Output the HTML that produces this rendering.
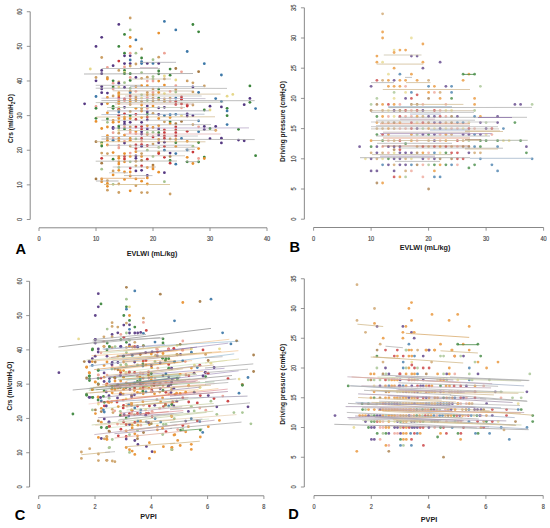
<!DOCTYPE html>
<html><head><meta charset="utf-8"><style>
html,body{margin:0;padding:0;background:#fff;width:550px;height:528px;overflow:hidden}
svg{display:block}
text{font-family:"Liberation Sans",sans-serif}
</style></head><body>
<svg width="550" height="528" viewBox="0 0 550 528">
<defs><filter id="bl" x="0" y="0" width="550" height="528" filterUnits="userSpaceOnUse"><feGaussianBlur stdDeviation="0.45"/></filter></defs>
<rect width="550" height="528" fill="#fff"/>
<line x1="30.2" y1="11.72" x2="30.2" y2="219.5" stroke="#7a7a7a" stroke-width="0.9"/>
<line x1="26.80" y1="219.50" x2="30.2" y2="219.50" stroke="#7a7a7a" stroke-width="0.8"/>
<text x="0" y="0" transform="translate(22.20,219.50) rotate(-90) scale(0.88,1)" text-anchor="middle" font-size="6.4" fill="#4a4a4a" stroke="#4a4a4a" stroke-width="0.18">0</text>
<line x1="26.80" y1="184.87" x2="30.2" y2="184.87" stroke="#7a7a7a" stroke-width="0.8"/>
<text x="0" y="0" transform="translate(22.20,184.87) rotate(-90) scale(0.88,1)" text-anchor="middle" font-size="6.4" fill="#4a4a4a" stroke="#4a4a4a" stroke-width="0.18">10</text>
<line x1="26.80" y1="150.24" x2="30.2" y2="150.24" stroke="#7a7a7a" stroke-width="0.8"/>
<text x="0" y="0" transform="translate(22.20,150.24) rotate(-90) scale(0.88,1)" text-anchor="middle" font-size="6.4" fill="#4a4a4a" stroke="#4a4a4a" stroke-width="0.18">20</text>
<line x1="26.80" y1="115.61" x2="30.2" y2="115.61" stroke="#7a7a7a" stroke-width="0.8"/>
<text x="0" y="0" transform="translate(22.20,115.61) rotate(-90) scale(0.88,1)" text-anchor="middle" font-size="6.4" fill="#4a4a4a" stroke="#4a4a4a" stroke-width="0.18">30</text>
<line x1="26.80" y1="80.98" x2="30.2" y2="80.98" stroke="#7a7a7a" stroke-width="0.8"/>
<text x="0" y="0" transform="translate(22.20,80.98) rotate(-90) scale(0.88,1)" text-anchor="middle" font-size="6.4" fill="#4a4a4a" stroke="#4a4a4a" stroke-width="0.18">40</text>
<line x1="26.80" y1="46.35" x2="30.2" y2="46.35" stroke="#7a7a7a" stroke-width="0.8"/>
<text x="0" y="0" transform="translate(22.20,46.35) rotate(-90) scale(0.88,1)" text-anchor="middle" font-size="6.4" fill="#4a4a4a" stroke="#4a4a4a" stroke-width="0.18">50</text>
<line x1="26.80" y1="11.72" x2="30.2" y2="11.72" stroke="#7a7a7a" stroke-width="0.8"/>
<text x="0" y="0" transform="translate(22.20,11.72) rotate(-90) scale(0.88,1)" text-anchor="middle" font-size="6.4" fill="#4a4a4a" stroke="#4a4a4a" stroke-width="0.18">60</text>
<line x1="39.0" y1="227.8" x2="267.00" y2="227.8" stroke="#7a7a7a" stroke-width="0.9"/>
<line x1="39.00" y1="227.8" x2="39.00" y2="231.00" stroke="#7a7a7a" stroke-width="0.8"/>
<text x="0" y="0" transform="translate(39.00,240.80) scale(0.88,1)" text-anchor="middle" font-size="6.4" fill="#4a4a4a" stroke="#4a4a4a" stroke-width="0.18">0</text>
<line x1="96.00" y1="227.8" x2="96.00" y2="231.00" stroke="#7a7a7a" stroke-width="0.8"/>
<text x="0" y="0" transform="translate(96.00,240.80) scale(0.88,1)" text-anchor="middle" font-size="6.4" fill="#4a4a4a" stroke="#4a4a4a" stroke-width="0.18">10</text>
<line x1="153.00" y1="227.8" x2="153.00" y2="231.00" stroke="#7a7a7a" stroke-width="0.8"/>
<text x="0" y="0" transform="translate(153.00,240.80) scale(0.88,1)" text-anchor="middle" font-size="6.4" fill="#4a4a4a" stroke="#4a4a4a" stroke-width="0.18">20</text>
<line x1="210.00" y1="227.8" x2="210.00" y2="231.00" stroke="#7a7a7a" stroke-width="0.8"/>
<text x="0" y="0" transform="translate(210.00,240.80) scale(0.88,1)" text-anchor="middle" font-size="6.4" fill="#4a4a4a" stroke="#4a4a4a" stroke-width="0.18">30</text>
<line x1="267.00" y1="227.8" x2="267.00" y2="231.00" stroke="#7a7a7a" stroke-width="0.8"/>
<text x="0" y="0" transform="translate(267.00,240.80) scale(0.88,1)" text-anchor="middle" font-size="6.4" fill="#4a4a4a" stroke="#4a4a4a" stroke-width="0.18">40</text>
<text x="0" y="0" transform="translate(13.10,118.60) rotate(-90)" text-anchor="middle" font-size="6.6" font-weight="bold" fill="#1a1a1a">Crs (ml/cmH<tspan font-size="5" dy="1.5">2</tspan><tspan dy="-1.5">O)</tspan></text>
<text x="152.0" y="256.2" text-anchor="middle" font-size="7.25" font-weight="bold" fill="#1a1a1a">EVLWi (mL/kg)</text>
<text x="15.4" y="253.6" font-size="14.6" font-weight="bold" fill="#000">A</text>
<g filter="url(#bl)"><circle cx="130.2" cy="18.0" r="1.4" fill="#cca066"/>
<circle cx="130.2" cy="29.9" r="1.4" fill="#a3c28e"/>
<circle cx="130.2" cy="37.5" r="1.4" fill="#e8902e"/>
<circle cx="130.2" cy="46.4" r="1.4" fill="#e8902e"/>
<circle cx="130.2" cy="53.2" r="1.4" fill="#eda396"/>
<circle cx="130.2" cy="55.8" r="1.4" fill="#553882"/>
<circle cx="130.2" cy="60.0" r="1.4" fill="#3d78a8"/>
<circle cx="130.2" cy="63.6" r="1.4" fill="#553882"/>
<circle cx="130.2" cy="66.0" r="1.4" fill="#cca066"/>
<circle cx="118.8" cy="24.4" r="1.4" fill="#553882"/>
<circle cx="118.8" cy="46.4" r="1.4" fill="#3c853c"/>
<circle cx="118.8" cy="61.1" r="1.4" fill="#c8383a"/>
<circle cx="124.5" cy="34.4" r="1.4" fill="#3c853c"/>
<circle cx="124.5" cy="53.2" r="1.4" fill="#3c853c"/>
<circle cx="124.5" cy="55.8" r="1.4" fill="#553882"/>
<circle cx="124.5" cy="63.6" r="1.4" fill="#553882"/>
<circle cx="124.5" cy="67.0" r="1.4" fill="#eda396"/>
<circle cx="135.9" cy="39.9" r="1.4" fill="#3d78a8"/>
<circle cx="135.9" cy="53.2" r="1.4" fill="#a3c28e"/>
<circle cx="135.9" cy="64.0" r="1.4" fill="#cca066"/>
<circle cx="101.7" cy="37.3" r="1.4" fill="#553882"/>
<circle cx="101.7" cy="57.5" r="1.4" fill="#cca066"/>
<circle cx="96.0" cy="46.4" r="1.4" fill="#553882"/>
<circle cx="113.1" cy="65.7" r="1.4" fill="#553882"/>
<circle cx="107.4" cy="67.4" r="1.4" fill="#eda396"/>
<circle cx="90.3" cy="69.0" r="1.4" fill="#e6d88a"/>
<circle cx="164.4" cy="21.4" r="1.4" fill="#3d78a8"/>
<circle cx="164.4" cy="53.2" r="1.4" fill="#eda396"/>
<circle cx="192.9" cy="24.5" r="1.4" fill="#3c853c"/>
<circle cx="198.6" cy="31.8" r="1.4" fill="#3c853c"/>
<circle cx="175.8" cy="29.9" r="1.4" fill="#3d78a8"/>
<circle cx="175.8" cy="68.5" r="1.4" fill="#a57a45"/>
<circle cx="158.7" cy="33.1" r="1.4" fill="#e8902e"/>
<circle cx="158.7" cy="57.2" r="1.4" fill="#cca066"/>
<circle cx="158.7" cy="63.4" r="1.4" fill="#553882"/>
<circle cx="141.6" cy="48.9" r="1.4" fill="#cca066"/>
<circle cx="141.6" cy="58.0" r="1.4" fill="#3c853c"/>
<circle cx="141.6" cy="61.7" r="1.4" fill="#3d78a8"/>
<circle cx="141.6" cy="63.6" r="1.4" fill="#3d78a8"/>
<circle cx="187.2" cy="51.5" r="1.4" fill="#3d78a8"/>
<circle cx="153.0" cy="59.7" r="1.4" fill="#a3c28e"/>
<circle cx="153.0" cy="63.4" r="1.4" fill="#3d78a8"/>
<circle cx="147.3" cy="63.4" r="1.4" fill="#553882"/>
<circle cx="170.1" cy="69.1" r="1.4" fill="#3c853c"/>
<circle cx="204.3" cy="63.7" r="1.4" fill="#3d78a8"/>
<circle cx="198.6" cy="71.7" r="1.4" fill="#a57a45"/>
<circle cx="221.4" cy="75.0" r="1.4" fill="#3d78a8"/>
<circle cx="96.0" cy="77.5" r="1.4" fill="#cca066"/>
<circle cx="96.0" cy="80.8" r="1.4" fill="#553882"/>
<circle cx="96.0" cy="96.5" r="1.4" fill="#3d78a8"/>
<circle cx="96.0" cy="106.4" r="1.4" fill="#eda396"/>
<circle cx="96.0" cy="108.3" r="1.4" fill="#3c853c"/>
<circle cx="101.7" cy="70.4" r="1.4" fill="#553882"/>
<circle cx="101.7" cy="73.7" r="1.4" fill="#553882"/>
<circle cx="101.7" cy="86.5" r="1.4" fill="#553882"/>
<circle cx="101.7" cy="88.9" r="1.4" fill="#553882"/>
<circle cx="101.7" cy="92.7" r="1.4" fill="#553882"/>
<circle cx="101.7" cy="104.0" r="1.4" fill="#553882"/>
<circle cx="107.4" cy="77.5" r="1.4" fill="#cca066"/>
<circle cx="107.4" cy="79.0" r="1.4" fill="#e8902e"/>
<circle cx="107.4" cy="93.1" r="1.4" fill="#553882"/>
<circle cx="107.4" cy="97.4" r="1.4" fill="#e8902e"/>
<circle cx="107.4" cy="103.6" r="1.4" fill="#e8902e"/>
<circle cx="113.1" cy="80.8" r="1.4" fill="#3c853c"/>
<circle cx="113.1" cy="83.2" r="1.4" fill="#eda396"/>
<circle cx="113.1" cy="87.0" r="1.4" fill="#3c853c"/>
<circle cx="113.1" cy="88.9" r="1.4" fill="#eda396"/>
<circle cx="113.1" cy="96.0" r="1.4" fill="#cca066"/>
<circle cx="113.1" cy="106.4" r="1.4" fill="#3c853c"/>
<circle cx="113.1" cy="108.3" r="1.4" fill="#3c853c"/>
<circle cx="118.8" cy="70.4" r="1.4" fill="#cca066"/>
<circle cx="118.8" cy="81.8" r="1.4" fill="#cca066"/>
<circle cx="118.8" cy="83.2" r="1.4" fill="#553882"/>
<circle cx="118.8" cy="87.0" r="1.4" fill="#e6d88a"/>
<circle cx="118.8" cy="92.7" r="1.4" fill="#e8902e"/>
<circle cx="118.8" cy="94.1" r="1.4" fill="#e8902e"/>
<circle cx="118.8" cy="96.0" r="1.4" fill="#e8902e"/>
<circle cx="118.8" cy="97.9" r="1.4" fill="#c8383a"/>
<circle cx="118.8" cy="99.8" r="1.4" fill="#eda396"/>
<circle cx="118.8" cy="101.7" r="1.4" fill="#e8902e"/>
<circle cx="118.8" cy="103.6" r="1.4" fill="#e8902e"/>
<circle cx="118.8" cy="107.3" r="1.4" fill="#e6d88a"/>
<circle cx="118.8" cy="109.2" r="1.4" fill="#c8383a"/>
<circle cx="124.5" cy="70.4" r="1.4" fill="#3c853c"/>
<circle cx="124.5" cy="72.3" r="1.4" fill="#e6d88a"/>
<circle cx="124.5" cy="73.7" r="1.4" fill="#3c853c"/>
<circle cx="124.5" cy="82.7" r="1.4" fill="#a3c28e"/>
<circle cx="124.5" cy="87.5" r="1.4" fill="#553882"/>
<circle cx="124.5" cy="98.8" r="1.4" fill="#c8383a"/>
<circle cx="124.5" cy="100.7" r="1.4" fill="#eda396"/>
<circle cx="124.5" cy="107.3" r="1.4" fill="#553882"/>
<circle cx="130.2" cy="73.7" r="1.4" fill="#3c853c"/>
<circle cx="130.2" cy="77.5" r="1.4" fill="#eda396"/>
<circle cx="130.2" cy="80.4" r="1.4" fill="#3c853c"/>
<circle cx="130.2" cy="88.4" r="1.4" fill="#a3c28e"/>
<circle cx="130.2" cy="91.3" r="1.4" fill="#e8902e"/>
<circle cx="130.2" cy="92.7" r="1.4" fill="#3d78a8"/>
<circle cx="130.2" cy="96.0" r="1.4" fill="#c8383a"/>
<circle cx="130.2" cy="98.8" r="1.4" fill="#e8902e"/>
<circle cx="130.2" cy="101.7" r="1.4" fill="#e8902e"/>
<circle cx="130.2" cy="104.5" r="1.4" fill="#cca066"/>
<circle cx="135.9" cy="77.5" r="1.4" fill="#553882"/>
<circle cx="135.9" cy="86.5" r="1.4" fill="#e8902e"/>
<circle cx="135.9" cy="91.3" r="1.4" fill="#eda396"/>
<circle cx="135.9" cy="96.9" r="1.4" fill="#cca066"/>
<circle cx="135.9" cy="98.8" r="1.4" fill="#e8902e"/>
<circle cx="135.9" cy="100.7" r="1.4" fill="#cca066"/>
<circle cx="135.9" cy="108.3" r="1.4" fill="#e8902e"/>
<circle cx="84.6" cy="103.8" r="1.4" fill="#553882"/>
<circle cx="141.6" cy="72.6" r="1.4" fill="#a3c28e"/>
<circle cx="141.6" cy="78.3" r="1.4" fill="#cca066"/>
<circle cx="141.6" cy="85.7" r="1.4" fill="#e8902e"/>
<circle cx="141.6" cy="94.8" r="1.4" fill="#a3c28e"/>
<circle cx="141.6" cy="98.2" r="1.4" fill="#e6d88a"/>
<circle cx="141.6" cy="101.6" r="1.4" fill="#cca066"/>
<circle cx="141.6" cy="105.0" r="1.4" fill="#e8902e"/>
<circle cx="141.6" cy="108.4" r="1.4" fill="#cca066"/>
<circle cx="147.3" cy="77.2" r="1.4" fill="#cca066"/>
<circle cx="147.3" cy="81.1" r="1.4" fill="#eda396"/>
<circle cx="147.3" cy="85.7" r="1.4" fill="#e8902e"/>
<circle cx="147.3" cy="92.5" r="1.4" fill="#cca066"/>
<circle cx="147.3" cy="94.8" r="1.4" fill="#e8902e"/>
<circle cx="147.3" cy="97.6" r="1.4" fill="#eda396"/>
<circle cx="147.3" cy="100.5" r="1.4" fill="#a3c28e"/>
<circle cx="147.3" cy="106.1" r="1.4" fill="#553882"/>
<circle cx="147.3" cy="108.4" r="1.4" fill="#eda396"/>
<circle cx="153.0" cy="76.6" r="1.4" fill="#a3c28e"/>
<circle cx="153.0" cy="78.9" r="1.4" fill="#a3c28e"/>
<circle cx="153.0" cy="81.1" r="1.4" fill="#eda396"/>
<circle cx="153.0" cy="89.1" r="1.4" fill="#cca066"/>
<circle cx="153.0" cy="92.5" r="1.4" fill="#eda396"/>
<circle cx="153.0" cy="94.8" r="1.4" fill="#e8902e"/>
<circle cx="153.0" cy="98.2" r="1.4" fill="#cca066"/>
<circle cx="153.0" cy="101.0" r="1.4" fill="#cca066"/>
<circle cx="153.0" cy="106.1" r="1.4" fill="#e8902e"/>
<circle cx="158.7" cy="70.9" r="1.4" fill="#3c853c"/>
<circle cx="158.7" cy="73.8" r="1.4" fill="#3c853c"/>
<circle cx="158.7" cy="81.1" r="1.4" fill="#e8902e"/>
<circle cx="158.7" cy="89.1" r="1.4" fill="#3c853c"/>
<circle cx="158.7" cy="92.5" r="1.4" fill="#e8902e"/>
<circle cx="158.7" cy="98.2" r="1.4" fill="#3c853c"/>
<circle cx="158.7" cy="99.9" r="1.4" fill="#cca066"/>
<circle cx="158.7" cy="107.8" r="1.4" fill="#553882"/>
<circle cx="164.4" cy="76.0" r="1.4" fill="#e6d88a"/>
<circle cx="164.4" cy="78.9" r="1.4" fill="#cca066"/>
<circle cx="164.4" cy="85.1" r="1.4" fill="#e8902e"/>
<circle cx="164.4" cy="93.6" r="1.4" fill="#e6d88a"/>
<circle cx="164.4" cy="98.8" r="1.4" fill="#cca066"/>
<circle cx="164.4" cy="101.6" r="1.4" fill="#cca066"/>
<circle cx="164.4" cy="107.3" r="1.4" fill="#553882"/>
<circle cx="170.1" cy="75.2" r="1.4" fill="#3c853c"/>
<circle cx="170.1" cy="91.4" r="1.4" fill="#eda396"/>
<circle cx="170.1" cy="98.2" r="1.4" fill="#cca066"/>
<circle cx="170.1" cy="101.6" r="1.4" fill="#eda396"/>
<circle cx="175.8" cy="80.0" r="1.4" fill="#e6d88a"/>
<circle cx="175.8" cy="85.7" r="1.4" fill="#eda396"/>
<circle cx="175.8" cy="89.7" r="1.4" fill="#cca066"/>
<circle cx="175.8" cy="92.0" r="1.4" fill="#a3c28e"/>
<circle cx="175.8" cy="98.2" r="1.4" fill="#3d78a8"/>
<circle cx="175.8" cy="101.6" r="1.4" fill="#c8383a"/>
<circle cx="175.8" cy="104.4" r="1.4" fill="#c8383a"/>
<circle cx="181.5" cy="71.8" r="1.4" fill="#eda396"/>
<circle cx="181.5" cy="97.0" r="1.4" fill="#c8383a"/>
<circle cx="181.5" cy="99.3" r="1.4" fill="#c8383a"/>
<circle cx="181.5" cy="103.9" r="1.4" fill="#c8383a"/>
<circle cx="181.5" cy="107.8" r="1.4" fill="#eda396"/>
<circle cx="187.2" cy="80.9" r="1.4" fill="#cca066"/>
<circle cx="187.2" cy="105.0" r="1.4" fill="#c8383a"/>
<circle cx="187.2" cy="106.1" r="1.4" fill="#c8383a"/>
<circle cx="192.9" cy="82.8" r="1.4" fill="#cca066"/>
<circle cx="192.9" cy="87.0" r="1.4" fill="#553882"/>
<circle cx="192.9" cy="91.9" r="1.4" fill="#cca066"/>
<circle cx="192.9" cy="105.0" r="1.4" fill="#cca066"/>
<circle cx="198.6" cy="92.5" r="1.4" fill="#3d78a8"/>
<circle cx="187.2" cy="116.1" r="1.4" fill="#553882"/>
<circle cx="192.9" cy="115.7" r="1.4" fill="#553882"/>
<circle cx="192.9" cy="124.6" r="1.4" fill="#cca066"/>
<circle cx="198.6" cy="120.8" r="1.4" fill="#3d78a8"/>
<circle cx="198.6" cy="126.8" r="1.4" fill="#eda396"/>
<circle cx="198.6" cy="131.7" r="1.4" fill="#3d78a8"/>
<circle cx="204.3" cy="85.9" r="1.4" fill="#cca066"/>
<circle cx="204.3" cy="110.0" r="1.4" fill="#3c853c"/>
<circle cx="204.3" cy="126.5" r="1.4" fill="#553882"/>
<circle cx="204.3" cy="129.6" r="1.4" fill="#553882"/>
<circle cx="210.0" cy="106.2" r="1.4" fill="#553882"/>
<circle cx="210.0" cy="110.0" r="1.4" fill="#e6d88a"/>
<circle cx="210.0" cy="128.5" r="1.4" fill="#3c853c"/>
<circle cx="215.7" cy="98.6" r="1.4" fill="#3d78a8"/>
<circle cx="215.7" cy="126.5" r="1.4" fill="#553882"/>
<circle cx="215.7" cy="130.3" r="1.4" fill="#e8902e"/>
<circle cx="221.4" cy="101.5" r="1.4" fill="#3d78a8"/>
<circle cx="221.4" cy="106.9" r="1.4" fill="#553882"/>
<circle cx="227.1" cy="96.2" r="1.4" fill="#e6d88a"/>
<circle cx="227.1" cy="108.3" r="1.4" fill="#3c853c"/>
<circle cx="227.1" cy="110.9" r="1.4" fill="#3d78a8"/>
<circle cx="227.1" cy="115.7" r="1.4" fill="#3c853c"/>
<circle cx="227.1" cy="124.6" r="1.4" fill="#3d78a8"/>
<circle cx="232.8" cy="94.4" r="1.4" fill="#e6d88a"/>
<circle cx="238.5" cy="129.3" r="1.4" fill="#3c853c"/>
<circle cx="244.2" cy="104.7" r="1.4" fill="#553882"/>
<circle cx="249.9" cy="85.9" r="1.4" fill="#3c853c"/>
<circle cx="249.9" cy="98.4" r="1.4" fill="#553882"/>
<circle cx="249.9" cy="102.3" r="1.4" fill="#3c853c"/>
<circle cx="255.6" cy="108.6" r="1.4" fill="#3d78a8"/>
<circle cx="187.2" cy="150.0" r="1.4" fill="#3d78a8"/>
<circle cx="187.2" cy="161.8" r="1.4" fill="#3c853c"/>
<circle cx="192.9" cy="146.2" r="1.4" fill="#a3c28e"/>
<circle cx="192.9" cy="152.1" r="1.4" fill="#c8383a"/>
<circle cx="192.9" cy="163.5" r="1.4" fill="#e8902e"/>
<circle cx="198.6" cy="142.5" r="1.4" fill="#3c853c"/>
<circle cx="198.6" cy="148.6" r="1.4" fill="#e8902e"/>
<circle cx="198.6" cy="158.5" r="1.4" fill="#eda396"/>
<circle cx="198.6" cy="161.8" r="1.4" fill="#3c853c"/>
<circle cx="204.3" cy="157.1" r="1.4" fill="#3c853c"/>
<circle cx="204.3" cy="158.5" r="1.4" fill="#e8902e"/>
<circle cx="210.0" cy="138.7" r="1.4" fill="#553882"/>
<circle cx="221.4" cy="138.2" r="1.4" fill="#553882"/>
<circle cx="221.4" cy="142.9" r="1.4" fill="#553882"/>
<circle cx="238.5" cy="140.1" r="1.4" fill="#553882"/>
<circle cx="244.2" cy="140.8" r="1.4" fill="#553882"/>
<circle cx="255.6" cy="155.7" r="1.4" fill="#3c853c"/>
<circle cx="96.0" cy="118.3" r="1.4" fill="#3c853c"/>
<circle cx="96.0" cy="121.4" r="1.4" fill="#e8902e"/>
<circle cx="96.0" cy="141.7" r="1.4" fill="#a57a45"/>
<circle cx="101.7" cy="128.5" r="1.4" fill="#e8902e"/>
<circle cx="101.7" cy="142.7" r="1.4" fill="#3c853c"/>
<circle cx="101.7" cy="144.1" r="1.4" fill="#e6d88a"/>
<circle cx="101.7" cy="146.0" r="1.4" fill="#3c853c"/>
<circle cx="101.7" cy="153.1" r="1.4" fill="#cca066"/>
<circle cx="101.7" cy="158.3" r="1.4" fill="#c8383a"/>
<circle cx="107.4" cy="112.8" r="1.4" fill="#e8902e"/>
<circle cx="107.4" cy="119.0" r="1.4" fill="#3c853c"/>
<circle cx="107.4" cy="122.3" r="1.4" fill="#a3c28e"/>
<circle cx="107.4" cy="127.0" r="1.4" fill="#e8902e"/>
<circle cx="107.4" cy="135.6" r="1.4" fill="#e8902e"/>
<circle cx="107.4" cy="137.9" r="1.4" fill="#cca066"/>
<circle cx="107.4" cy="140.3" r="1.4" fill="#e8902e"/>
<circle cx="107.4" cy="145.0" r="1.4" fill="#e8902e"/>
<circle cx="107.4" cy="153.6" r="1.4" fill="#cca066"/>
<circle cx="113.1" cy="120.4" r="1.4" fill="#e8902e"/>
<circle cx="113.1" cy="122.3" r="1.4" fill="#e8902e"/>
<circle cx="113.1" cy="127.5" r="1.4" fill="#553882"/>
<circle cx="113.1" cy="128.5" r="1.4" fill="#553882"/>
<circle cx="113.1" cy="132.7" r="1.4" fill="#eda396"/>
<circle cx="113.1" cy="137.9" r="1.4" fill="#eda396"/>
<circle cx="113.1" cy="140.3" r="1.4" fill="#3d78a8"/>
<circle cx="113.1" cy="152.6" r="1.4" fill="#e8902e"/>
<circle cx="113.1" cy="159.2" r="1.4" fill="#3c853c"/>
<circle cx="118.8" cy="110.0" r="1.4" fill="#cca066"/>
<circle cx="118.8" cy="111.9" r="1.4" fill="#3d78a8"/>
<circle cx="118.8" cy="115.2" r="1.4" fill="#c8383a"/>
<circle cx="118.8" cy="118.5" r="1.4" fill="#e8902e"/>
<circle cx="118.8" cy="121.8" r="1.4" fill="#e8902e"/>
<circle cx="118.8" cy="126.1" r="1.4" fill="#3c853c"/>
<circle cx="118.8" cy="128.0" r="1.4" fill="#3c853c"/>
<circle cx="118.8" cy="130.4" r="1.4" fill="#e6d88a"/>
<circle cx="118.8" cy="133.2" r="1.4" fill="#cca066"/>
<circle cx="118.8" cy="138.4" r="1.4" fill="#e8902e"/>
<circle cx="118.8" cy="140.8" r="1.4" fill="#e8902e"/>
<circle cx="118.8" cy="145.5" r="1.4" fill="#eda396"/>
<circle cx="118.8" cy="147.9" r="1.4" fill="#eda396"/>
<circle cx="118.8" cy="156.4" r="1.4" fill="#e8902e"/>
<circle cx="118.8" cy="158.3" r="1.4" fill="#e8902e"/>
<circle cx="124.5" cy="113.8" r="1.4" fill="#c8383a"/>
<circle cx="124.5" cy="117.1" r="1.4" fill="#e8902e"/>
<circle cx="124.5" cy="119.0" r="1.4" fill="#e8902e"/>
<circle cx="124.5" cy="121.8" r="1.4" fill="#553882"/>
<circle cx="124.5" cy="124.2" r="1.4" fill="#553882"/>
<circle cx="124.5" cy="127.0" r="1.4" fill="#eda396"/>
<circle cx="124.5" cy="128.9" r="1.4" fill="#3c853c"/>
<circle cx="124.5" cy="135.1" r="1.4" fill="#e8902e"/>
<circle cx="124.5" cy="141.3" r="1.4" fill="#eda396"/>
<circle cx="124.5" cy="143.1" r="1.4" fill="#553882"/>
<circle cx="124.5" cy="153.6" r="1.4" fill="#e8902e"/>
<circle cx="124.5" cy="156.4" r="1.4" fill="#c8383a"/>
<circle cx="130.2" cy="111.4" r="1.4" fill="#cca066"/>
<circle cx="130.2" cy="115.7" r="1.4" fill="#3c853c"/>
<circle cx="130.2" cy="118.5" r="1.4" fill="#e8902e"/>
<circle cx="130.2" cy="122.3" r="1.4" fill="#553882"/>
<circle cx="130.2" cy="127.0" r="1.4" fill="#cca066"/>
<circle cx="130.2" cy="130.4" r="1.4" fill="#e8902e"/>
<circle cx="130.2" cy="132.7" r="1.4" fill="#eda396"/>
<circle cx="130.2" cy="138.4" r="1.4" fill="#e8902e"/>
<circle cx="130.2" cy="140.3" r="1.4" fill="#e8902e"/>
<circle cx="130.2" cy="146.0" r="1.4" fill="#cca066"/>
<circle cx="130.2" cy="153.1" r="1.4" fill="#eda396"/>
<circle cx="130.2" cy="156.4" r="1.4" fill="#e8902e"/>
<circle cx="135.9" cy="114.3" r="1.4" fill="#c8383a"/>
<circle cx="135.9" cy="119.5" r="1.4" fill="#c8383a"/>
<circle cx="135.9" cy="127.0" r="1.4" fill="#c8383a"/>
<circle cx="135.9" cy="131.8" r="1.4" fill="#e8902e"/>
<circle cx="135.9" cy="133.7" r="1.4" fill="#eda396"/>
<circle cx="135.9" cy="138.9" r="1.4" fill="#a3c28e"/>
<circle cx="135.9" cy="145.0" r="1.4" fill="#c8383a"/>
<circle cx="135.9" cy="148.4" r="1.4" fill="#c8383a"/>
<circle cx="135.9" cy="151.7" r="1.4" fill="#e8902e"/>
<circle cx="135.9" cy="155.9" r="1.4" fill="#553882"/>
<circle cx="135.9" cy="158.3" r="1.4" fill="#553882"/>
<circle cx="96.0" cy="178.9" r="1.4" fill="#a57a45"/>
<circle cx="101.7" cy="163.2" r="1.4" fill="#a57a45"/>
<circle cx="101.7" cy="169.2" r="1.4" fill="#a3c28e"/>
<circle cx="101.7" cy="178.9" r="1.4" fill="#e8902e"/>
<circle cx="101.7" cy="181.7" r="1.4" fill="#e8902e"/>
<circle cx="107.4" cy="180.6" r="1.4" fill="#cca066"/>
<circle cx="107.4" cy="183.4" r="1.4" fill="#e8902e"/>
<circle cx="107.4" cy="186.3" r="1.4" fill="#e8902e"/>
<circle cx="107.4" cy="190.2" r="1.4" fill="#cca066"/>
<circle cx="113.1" cy="170.9" r="1.4" fill="#cca066"/>
<circle cx="113.1" cy="174.9" r="1.4" fill="#e8902e"/>
<circle cx="113.1" cy="184.3" r="1.4" fill="#a3c28e"/>
<circle cx="118.8" cy="161.8" r="1.4" fill="#e8902e"/>
<circle cx="118.8" cy="164.1" r="1.4" fill="#e8902e"/>
<circle cx="118.8" cy="167.5" r="1.4" fill="#a3c28e"/>
<circle cx="118.8" cy="170.3" r="1.4" fill="#e8902e"/>
<circle cx="118.8" cy="184.0" r="1.4" fill="#cca066"/>
<circle cx="118.8" cy="192.5" r="1.4" fill="#cca066"/>
<circle cx="124.5" cy="159.0" r="1.4" fill="#c8383a"/>
<circle cx="124.5" cy="161.8" r="1.4" fill="#e8902e"/>
<circle cx="124.5" cy="172.0" r="1.4" fill="#e8902e"/>
<circle cx="124.5" cy="179.4" r="1.4" fill="#e8902e"/>
<circle cx="130.2" cy="161.8" r="1.4" fill="#a3c28e"/>
<circle cx="130.2" cy="168.1" r="1.4" fill="#c8383a"/>
<circle cx="130.2" cy="172.0" r="1.4" fill="#e8902e"/>
<circle cx="130.2" cy="176.0" r="1.4" fill="#e8902e"/>
<circle cx="130.2" cy="190.8" r="1.4" fill="#e8902e"/>
<circle cx="135.9" cy="161.3" r="1.4" fill="#cca066"/>
<circle cx="135.9" cy="165.8" r="1.4" fill="#cca066"/>
<circle cx="135.9" cy="170.9" r="1.4" fill="#553882"/>
<circle cx="135.9" cy="178.9" r="1.4" fill="#e8902e"/>
<circle cx="135.9" cy="185.7" r="1.4" fill="#cca066"/>
<circle cx="141.6" cy="111.0" r="1.4" fill="#e8902e"/>
<circle cx="141.6" cy="117.6" r="1.4" fill="#e8902e"/>
<circle cx="141.6" cy="122.3" r="1.4" fill="#553882"/>
<circle cx="141.6" cy="126.6" r="1.4" fill="#c8383a"/>
<circle cx="141.6" cy="128.9" r="1.4" fill="#c8383a"/>
<circle cx="141.6" cy="131.8" r="1.4" fill="#553882"/>
<circle cx="141.6" cy="134.1" r="1.4" fill="#553882"/>
<circle cx="141.6" cy="138.4" r="1.4" fill="#c8383a"/>
<circle cx="141.6" cy="141.3" r="1.4" fill="#eda396"/>
<circle cx="141.6" cy="144.6" r="1.4" fill="#c8383a"/>
<circle cx="141.6" cy="146.5" r="1.4" fill="#553882"/>
<circle cx="141.6" cy="153.6" r="1.4" fill="#cca066"/>
<circle cx="141.6" cy="156.4" r="1.4" fill="#e8902e"/>
<circle cx="147.3" cy="111.9" r="1.4" fill="#553882"/>
<circle cx="147.3" cy="114.3" r="1.4" fill="#3c853c"/>
<circle cx="147.3" cy="117.1" r="1.4" fill="#c8383a"/>
<circle cx="147.3" cy="119.9" r="1.4" fill="#553882"/>
<circle cx="147.3" cy="125.6" r="1.4" fill="#e8902e"/>
<circle cx="147.3" cy="128.9" r="1.4" fill="#553882"/>
<circle cx="147.3" cy="132.7" r="1.4" fill="#a3c28e"/>
<circle cx="147.3" cy="134.6" r="1.4" fill="#cca066"/>
<circle cx="147.3" cy="145.5" r="1.4" fill="#c8383a"/>
<circle cx="147.3" cy="150.2" r="1.4" fill="#a3c28e"/>
<circle cx="147.3" cy="159.2" r="1.4" fill="#c8383a"/>
<circle cx="153.0" cy="113.3" r="1.4" fill="#cca066"/>
<circle cx="153.0" cy="127.5" r="1.4" fill="#e8902e"/>
<circle cx="153.0" cy="132.3" r="1.4" fill="#a3c28e"/>
<circle cx="153.0" cy="137.0" r="1.4" fill="#c8383a"/>
<circle cx="153.0" cy="144.1" r="1.4" fill="#cca066"/>
<circle cx="153.0" cy="156.4" r="1.4" fill="#a3c28e"/>
<circle cx="158.7" cy="114.3" r="1.4" fill="#553882"/>
<circle cx="158.7" cy="118.5" r="1.4" fill="#e8902e"/>
<circle cx="158.7" cy="125.6" r="1.4" fill="#e8902e"/>
<circle cx="158.7" cy="128.9" r="1.4" fill="#553882"/>
<circle cx="158.7" cy="132.7" r="1.4" fill="#3c853c"/>
<circle cx="158.7" cy="135.1" r="1.4" fill="#553882"/>
<circle cx="158.7" cy="139.4" r="1.4" fill="#e8902e"/>
<circle cx="158.7" cy="142.7" r="1.4" fill="#553882"/>
<circle cx="158.7" cy="147.4" r="1.4" fill="#a3c28e"/>
<circle cx="158.7" cy="152.1" r="1.4" fill="#e8902e"/>
<circle cx="158.7" cy="153.6" r="1.4" fill="#c8383a"/>
<circle cx="164.4" cy="115.7" r="1.4" fill="#3d78a8"/>
<circle cx="164.4" cy="121.8" r="1.4" fill="#cca066"/>
<circle cx="164.4" cy="129.9" r="1.4" fill="#c8383a"/>
<circle cx="164.4" cy="132.7" r="1.4" fill="#c8383a"/>
<circle cx="164.4" cy="136.0" r="1.4" fill="#c8383a"/>
<circle cx="164.4" cy="138.4" r="1.4" fill="#c8383a"/>
<circle cx="164.4" cy="142.2" r="1.4" fill="#553882"/>
<circle cx="164.4" cy="146.5" r="1.4" fill="#c8383a"/>
<circle cx="164.4" cy="150.2" r="1.4" fill="#3d78a8"/>
<circle cx="164.4" cy="157.3" r="1.4" fill="#c8383a"/>
<circle cx="170.1" cy="114.7" r="1.4" fill="#3d78a8"/>
<circle cx="170.1" cy="117.6" r="1.4" fill="#e8902e"/>
<circle cx="170.1" cy="121.8" r="1.4" fill="#3c853c"/>
<circle cx="170.1" cy="123.7" r="1.4" fill="#e8902e"/>
<circle cx="170.1" cy="138.9" r="1.4" fill="#cca066"/>
<circle cx="170.1" cy="153.1" r="1.4" fill="#553882"/>
<circle cx="170.1" cy="156.4" r="1.4" fill="#a57a45"/>
<circle cx="175.8" cy="114.3" r="1.4" fill="#3d78a8"/>
<circle cx="175.8" cy="123.7" r="1.4" fill="#a57a45"/>
<circle cx="175.8" cy="127.0" r="1.4" fill="#c8383a"/>
<circle cx="175.8" cy="129.9" r="1.4" fill="#c8383a"/>
<circle cx="175.8" cy="132.7" r="1.4" fill="#c8383a"/>
<circle cx="175.8" cy="136.0" r="1.4" fill="#c8383a"/>
<circle cx="175.8" cy="139.4" r="1.4" fill="#e8902e"/>
<circle cx="175.8" cy="142.7" r="1.4" fill="#3c853c"/>
<circle cx="175.8" cy="146.5" r="1.4" fill="#e8902e"/>
<circle cx="175.8" cy="153.6" r="1.4" fill="#3d78a8"/>
<circle cx="181.5" cy="115.7" r="1.4" fill="#e6d88a"/>
<circle cx="181.5" cy="121.4" r="1.4" fill="#a57a45"/>
<circle cx="181.5" cy="138.4" r="1.4" fill="#3d78a8"/>
<circle cx="187.2" cy="113.8" r="1.4" fill="#553882"/>
<circle cx="187.2" cy="131.3" r="1.4" fill="#c8383a"/>
<circle cx="187.2" cy="141.3" r="1.4" fill="#e8902e"/>
<circle cx="187.2" cy="157.3" r="1.4" fill="#e8902e"/>
<circle cx="141.6" cy="160.4" r="1.4" fill="#a57a45"/>
<circle cx="141.6" cy="166.0" r="1.4" fill="#c8383a"/>
<circle cx="141.6" cy="170.3" r="1.4" fill="#553882"/>
<circle cx="141.6" cy="181.2" r="1.4" fill="#e8902e"/>
<circle cx="141.6" cy="192.6" r="1.4" fill="#cca066"/>
<circle cx="147.3" cy="167.5" r="1.4" fill="#e8902e"/>
<circle cx="147.3" cy="175.5" r="1.4" fill="#553882"/>
<circle cx="147.3" cy="177.9" r="1.4" fill="#e8902e"/>
<circle cx="147.3" cy="184.0" r="1.4" fill="#e8902e"/>
<circle cx="147.3" cy="192.6" r="1.4" fill="#cca066"/>
<circle cx="153.0" cy="165.1" r="1.4" fill="#a57a45"/>
<circle cx="153.0" cy="167.0" r="1.4" fill="#e8902e"/>
<circle cx="153.0" cy="168.9" r="1.4" fill="#e8902e"/>
<circle cx="158.7" cy="172.2" r="1.4" fill="#e8902e"/>
<circle cx="164.4" cy="172.7" r="1.4" fill="#553882"/>
<circle cx="164.4" cy="181.7" r="1.4" fill="#a3c28e"/>
<circle cx="170.1" cy="160.4" r="1.4" fill="#3c853c"/>
<circle cx="170.1" cy="163.2" r="1.4" fill="#c8383a"/>
<circle cx="170.1" cy="194.0" r="1.4" fill="#cca066"/>
<circle cx="175.8" cy="164.2" r="1.4" fill="#3d78a8"/>
<line x1="140.0" y1="62.4" x2="176.0" y2="62.3" stroke="#a8a8b0" stroke-width="0.9" opacity="0.85"/>
<line x1="140.0" y1="67.7" x2="158.0" y2="67.7" stroke="#c8a8b8" stroke-width="0.9" opacity="0.85"/>
<line x1="101.6" y1="68.5" x2="160.0" y2="68.5" stroke="#b0b0b0" stroke-width="0.9" opacity="0.85"/>
<line x1="84.0" y1="74.0" x2="193.0" y2="73.5" stroke="#a0a0a0" stroke-width="0.9" opacity="0.85"/>
<line x1="130.0" y1="79.0" x2="171.0" y2="79.0" stroke="#c8c0b0" stroke-width="0.9" opacity="0.85"/>
<line x1="95.7" y1="85.3" x2="141.0" y2="85.3" stroke="#b0b0b0" stroke-width="0.9" opacity="0.85"/>
<line x1="130.0" y1="86.5" x2="204.5" y2="86.5" stroke="#b8c0c8" stroke-width="0.9" opacity="0.85"/>
<line x1="95.7" y1="88.2" x2="227.0" y2="88.4" stroke="#b0b0b0" stroke-width="0.9" opacity="0.85"/>
<line x1="112.7" y1="90.8" x2="192.0" y2="91.0" stroke="#c8b8a8" stroke-width="0.9" opacity="0.85"/>
<line x1="118.4" y1="94.2" x2="220.6" y2="94.1" stroke="#d0bc98" stroke-width="0.9" opacity="0.85"/>
<line x1="125.0" y1="96.0" x2="201.7" y2="96.0" stroke="#c0c0c0" stroke-width="0.9" opacity="0.85"/>
<line x1="101.4" y1="98.2" x2="205.5" y2="98.6" stroke="#c0b8c8" stroke-width="0.9" opacity="0.85"/>
<line x1="101.4" y1="100.6" x2="254.7" y2="100.7" stroke="#a8a8a8" stroke-width="0.9" opacity="0.85"/>
<line x1="95.7" y1="102.6" x2="223.4" y2="102.2" stroke="#c0c0b0" stroke-width="0.9" opacity="0.85"/>
<line x1="115.0" y1="104.0" x2="194.0" y2="104.0" stroke="#d0b8b0" stroke-width="0.9" opacity="0.85"/>
<line x1="107.0" y1="107.5" x2="185.0" y2="107.5" stroke="#c0c8b8" stroke-width="0.9" opacity="0.85"/>
<line x1="107.0" y1="110.9" x2="209.0" y2="110.8" stroke="#a8a8b0" stroke-width="0.9" opacity="0.85"/>
<line x1="101.4" y1="114.6" x2="204.5" y2="114.2" stroke="#a8b4c8" stroke-width="0.9" opacity="0.85"/>
<line x1="95.7" y1="117.0" x2="215.0" y2="116.8" stroke="#d4bc94" stroke-width="0.9" opacity="0.85"/>
<line x1="101.4" y1="120.2" x2="199.8" y2="120.4" stroke="#c0c0c0" stroke-width="0.9" opacity="0.85"/>
<line x1="118.4" y1="125.0" x2="211.0" y2="124.6" stroke="#b8b8b8" stroke-width="0.9" opacity="0.85"/>
<line x1="112.7" y1="128.1" x2="249.0" y2="127.9" stroke="#b8a8c8" stroke-width="0.9" opacity="0.85"/>
<line x1="118.4" y1="130.6" x2="216.8" y2="130.2" stroke="#c8c8c0" stroke-width="0.9" opacity="0.85"/>
<line x1="124.0" y1="134.0" x2="220.6" y2="134.0" stroke="#e0b0b0" stroke-width="0.9" opacity="0.85"/>
<line x1="101.4" y1="136.6" x2="197.9" y2="136.0" stroke="#c0c0c0" stroke-width="0.9" opacity="0.85"/>
<line x1="101.4" y1="139.0" x2="254.7" y2="139.6" stroke="#a8a8a8" stroke-width="0.9" opacity="0.85"/>
<line x1="95.7" y1="141.7" x2="205.5" y2="141.8" stroke="#d4bc94" stroke-width="0.9" opacity="0.85"/>
<line x1="107.0" y1="145.3" x2="192.0" y2="145.2" stroke="#b8b8c0" stroke-width="0.9" opacity="0.85"/>
<line x1="129.8" y1="147.3" x2="198.0" y2="147.3" stroke="#c8c0b8" stroke-width="0.9" opacity="0.85"/>
<line x1="135.5" y1="151.0" x2="190.0" y2="151.0" stroke="#c0c0c0" stroke-width="0.9" opacity="0.85"/>
<line x1="101.4" y1="155.8" x2="185.0" y2="155.8" stroke="#c8c0b0" stroke-width="0.9" opacity="0.85"/>
<line x1="95.7" y1="161.2" x2="177.0" y2="161.0" stroke="#b0b0a8" stroke-width="0.9" opacity="0.85"/>
<line x1="185.0" y1="161.7" x2="199.0" y2="161.7" stroke="#a8a8a0" stroke-width="0.9" opacity="0.85"/>
<line x1="112.7" y1="167.0" x2="156.0" y2="167.0" stroke="#c0c0c0" stroke-width="0.9" opacity="0.85"/>
<line x1="109.0" y1="172.8" x2="128.0" y2="172.8" stroke="#c0c0c0" stroke-width="0.9" opacity="0.85"/>
<line x1="124.0" y1="175.6" x2="152.5" y2="175.6" stroke="#b0b0b0" stroke-width="0.9" opacity="0.85"/>
<line x1="100.5" y1="178.3" x2="145.0" y2="178.3" stroke="#dca870" stroke-width="0.9" opacity="0.85"/>
<line x1="96.0" y1="181.0" x2="118.6" y2="181.0" stroke="#a8a8a8" stroke-width="0.9" opacity="0.85"/>
<line x1="104.0" y1="184.5" x2="170.0" y2="184.5" stroke="#d4bc88" stroke-width="0.9" opacity="0.85"/>
<line x1="185.0" y1="149.3" x2="195.0" y2="149.3" stroke="#b0b0b0" stroke-width="0.9" opacity="0.85"/></g>
<line x1="304.35" y1="7.80" x2="304.35" y2="219.2" stroke="#7a7a7a" stroke-width="0.9"/>
<line x1="300.95" y1="219.20" x2="304.35" y2="219.20" stroke="#7a7a7a" stroke-width="0.8"/>
<text x="0" y="0" transform="translate(296.35,219.20) rotate(-90) scale(0.88,1)" text-anchor="middle" font-size="6.4" fill="#4a4a4a" stroke="#4a4a4a" stroke-width="0.18">0</text>
<line x1="300.95" y1="189.00" x2="304.35" y2="189.00" stroke="#7a7a7a" stroke-width="0.8"/>
<text x="0" y="0" transform="translate(296.35,189.00) rotate(-90) scale(0.88,1)" text-anchor="middle" font-size="6.4" fill="#4a4a4a" stroke="#4a4a4a" stroke-width="0.18">5</text>
<line x1="300.95" y1="158.80" x2="304.35" y2="158.80" stroke="#7a7a7a" stroke-width="0.8"/>
<text x="0" y="0" transform="translate(296.35,158.80) rotate(-90) scale(0.88,1)" text-anchor="middle" font-size="6.4" fill="#4a4a4a" stroke="#4a4a4a" stroke-width="0.18">10</text>
<line x1="300.95" y1="128.60" x2="304.35" y2="128.60" stroke="#7a7a7a" stroke-width="0.8"/>
<text x="0" y="0" transform="translate(296.35,128.60) rotate(-90) scale(0.88,1)" text-anchor="middle" font-size="6.4" fill="#4a4a4a" stroke="#4a4a4a" stroke-width="0.18">15</text>
<line x1="300.95" y1="98.40" x2="304.35" y2="98.40" stroke="#7a7a7a" stroke-width="0.8"/>
<text x="0" y="0" transform="translate(296.35,98.40) rotate(-90) scale(0.88,1)" text-anchor="middle" font-size="6.4" fill="#4a4a4a" stroke="#4a4a4a" stroke-width="0.18">20</text>
<line x1="300.95" y1="68.20" x2="304.35" y2="68.20" stroke="#7a7a7a" stroke-width="0.8"/>
<text x="0" y="0" transform="translate(296.35,68.20) rotate(-90) scale(0.88,1)" text-anchor="middle" font-size="6.4" fill="#4a4a4a" stroke="#4a4a4a" stroke-width="0.18">25</text>
<line x1="300.95" y1="38.00" x2="304.35" y2="38.00" stroke="#7a7a7a" stroke-width="0.8"/>
<text x="0" y="0" transform="translate(296.35,38.00) rotate(-90) scale(0.88,1)" text-anchor="middle" font-size="6.4" fill="#4a4a4a" stroke="#4a4a4a" stroke-width="0.18">30</text>
<line x1="300.95" y1="7.80" x2="304.35" y2="7.80" stroke="#7a7a7a" stroke-width="0.8"/>
<text x="0" y="0" transform="translate(296.35,7.80) rotate(-90) scale(0.88,1)" text-anchor="middle" font-size="6.4" fill="#4a4a4a" stroke="#4a4a4a" stroke-width="0.18">35</text>
<line x1="313.6" y1="227.5" x2="543.60" y2="227.5" stroke="#7a7a7a" stroke-width="0.9"/>
<line x1="313.60" y1="227.5" x2="313.60" y2="230.70" stroke="#7a7a7a" stroke-width="0.8"/>
<text x="0" y="0" transform="translate(313.60,240.50) scale(0.88,1)" text-anchor="middle" font-size="6.4" fill="#4a4a4a" stroke="#4a4a4a" stroke-width="0.18">0</text>
<line x1="371.10" y1="227.5" x2="371.10" y2="230.70" stroke="#7a7a7a" stroke-width="0.8"/>
<text x="0" y="0" transform="translate(371.10,240.50) scale(0.88,1)" text-anchor="middle" font-size="6.4" fill="#4a4a4a" stroke="#4a4a4a" stroke-width="0.18">10</text>
<line x1="428.60" y1="227.5" x2="428.60" y2="230.70" stroke="#7a7a7a" stroke-width="0.8"/>
<text x="0" y="0" transform="translate(428.60,240.50) scale(0.88,1)" text-anchor="middle" font-size="6.4" fill="#4a4a4a" stroke="#4a4a4a" stroke-width="0.18">20</text>
<line x1="486.10" y1="227.5" x2="486.10" y2="230.70" stroke="#7a7a7a" stroke-width="0.8"/>
<text x="0" y="0" transform="translate(486.10,240.50) scale(0.88,1)" text-anchor="middle" font-size="6.4" fill="#4a4a4a" stroke="#4a4a4a" stroke-width="0.18">30</text>
<line x1="543.60" y1="227.5" x2="543.60" y2="230.70" stroke="#7a7a7a" stroke-width="0.8"/>
<text x="0" y="0" transform="translate(543.60,240.50) scale(0.88,1)" text-anchor="middle" font-size="6.4" fill="#4a4a4a" stroke="#4a4a4a" stroke-width="0.18">40</text>
<text x="0" y="0" transform="translate(284.70,121.50) rotate(-90)" text-anchor="middle" font-size="6.6" font-weight="bold" fill="#1a1a1a">Driving pressure (cmH<tspan font-size="5" dy="1.5">2</tspan><tspan dy="-1.5">O)</tspan></text>
<text x="425.0" y="249.8" text-anchor="middle" font-size="7.25" font-weight="bold" fill="#1a1a1a">EVLWi (mL/kg)</text>
<text x="289.6" y="251.6" font-size="14.6" font-weight="bold" fill="#000">B</text>
<g filter="url(#bl)"><circle cx="382.6" cy="13.8" r="1.4" fill="#d9b88c"/>
<circle cx="382.6" cy="32.0" r="1.4" fill="#eeac62"/>
<circle cx="382.6" cy="38.0" r="1.4" fill="#eeac62"/>
<circle cx="411.4" cy="38.0" r="1.4" fill="#ece2a7"/>
<circle cx="422.9" cy="44.0" r="1.4" fill="#eeac62"/>
<circle cx="394.1" cy="50.1" r="1.4" fill="#ece2a7"/>
<circle cx="399.9" cy="50.1" r="1.4" fill="#eeac62"/>
<circle cx="405.6" cy="50.1" r="1.4" fill="#eeac62"/>
<circle cx="394.1" cy="52.5" r="1.4" fill="#eeac62"/>
<circle cx="376.9" cy="56.1" r="1.4" fill="#eeac62"/>
<circle cx="411.4" cy="56.1" r="1.4" fill="#806aa1"/>
<circle cx="417.1" cy="56.1" r="1.4" fill="#806aa1"/>
<circle cx="376.9" cy="62.2" r="1.4" fill="#eeac62"/>
<circle cx="382.6" cy="62.2" r="1.4" fill="#ece2a7"/>
<circle cx="422.9" cy="62.2" r="1.4" fill="#eeac62"/>
<circle cx="440.1" cy="62.2" r="1.4" fill="#806aa1"/>
<circle cx="394.1" cy="68.2" r="1.4" fill="#eeac62"/>
<circle cx="422.9" cy="68.2" r="1.4" fill="#806aa1"/>
<circle cx="388.4" cy="74.2" r="1.4" fill="#ece2a7"/>
<circle cx="399.9" cy="74.2" r="1.4" fill="#6e9abe"/>
<circle cx="411.4" cy="74.2" r="1.4" fill="#eeac62"/>
<circle cx="463.1" cy="74.2" r="1.4" fill="#6da46d"/>
<circle cx="468.9" cy="74.2" r="1.4" fill="#eeac62"/>
<circle cx="474.6" cy="74.2" r="1.4" fill="#6da46d"/>
<circle cx="376.9" cy="80.3" r="1.4" fill="#d66a6b"/>
<circle cx="382.6" cy="80.3" r="1.4" fill="#d9b88c"/>
<circle cx="388.4" cy="80.3" r="1.4" fill="#eeac62"/>
<circle cx="394.1" cy="80.3" r="1.4" fill="#806aa1"/>
<circle cx="399.9" cy="80.3" r="1.4" fill="#eeac62"/>
<circle cx="405.6" cy="80.3" r="1.4" fill="#eeac62"/>
<circle cx="417.1" cy="80.3" r="1.4" fill="#eeac62"/>
<circle cx="428.6" cy="80.3" r="1.4" fill="#d9b88c"/>
<circle cx="463.1" cy="80.3" r="1.4" fill="#eeac62"/>
<circle cx="371.1" cy="86.3" r="1.4" fill="#806aa1"/>
<circle cx="388.4" cy="86.3" r="1.4" fill="#eeac62"/>
<circle cx="394.1" cy="86.3" r="1.4" fill="#eeac62"/>
<circle cx="399.9" cy="86.3" r="1.4" fill="#eeac62"/>
<circle cx="405.6" cy="86.3" r="1.4" fill="#f2bab0"/>
<circle cx="394.1" cy="92.4" r="1.4" fill="#bad1aa"/>
<circle cx="405.6" cy="92.4" r="1.4" fill="#ece2a7"/>
<circle cx="411.4" cy="92.4" r="1.4" fill="#6e9abe"/>
<circle cx="376.9" cy="98.4" r="1.4" fill="#bad1aa"/>
<circle cx="394.1" cy="98.4" r="1.4" fill="#ece2a7"/>
<circle cx="405.6" cy="98.4" r="1.4" fill="#806aa1"/>
<circle cx="411.4" cy="98.4" r="1.4" fill="#d66a6b"/>
<circle cx="371.1" cy="104.4" r="1.4" fill="#bad1aa"/>
<circle cx="376.9" cy="104.4" r="1.4" fill="#bc9b74"/>
<circle cx="382.6" cy="104.4" r="1.4" fill="#eeac62"/>
<circle cx="388.4" cy="104.4" r="1.4" fill="#d66a6b"/>
<circle cx="394.1" cy="104.4" r="1.4" fill="#eeac62"/>
<circle cx="399.9" cy="104.4" r="1.4" fill="#f2bab0"/>
<circle cx="411.4" cy="104.4" r="1.4" fill="#bc9b74"/>
<circle cx="371.1" cy="110.5" r="1.4" fill="#bc9b74"/>
<circle cx="382.6" cy="110.5" r="1.4" fill="#d9b88c"/>
<circle cx="388.4" cy="110.5" r="1.4" fill="#ece2a7"/>
<circle cx="394.1" cy="110.5" r="1.4" fill="#806aa1"/>
<circle cx="399.9" cy="110.5" r="1.4" fill="#bc9b74"/>
<circle cx="405.6" cy="110.5" r="1.4" fill="#d66a6b"/>
<circle cx="411.4" cy="110.5" r="1.4" fill="#f2bab0"/>
<circle cx="376.9" cy="116.5" r="1.4" fill="#6da46d"/>
<circle cx="382.6" cy="116.5" r="1.4" fill="#eeac62"/>
<circle cx="388.4" cy="116.5" r="1.4" fill="#f2bab0"/>
<circle cx="394.1" cy="116.5" r="1.4" fill="#ece2a7"/>
<circle cx="399.9" cy="116.5" r="1.4" fill="#d66a6b"/>
<circle cx="405.6" cy="116.5" r="1.4" fill="#f2bab0"/>
<circle cx="411.4" cy="116.5" r="1.4" fill="#f2bab0"/>
<circle cx="376.9" cy="122.6" r="1.4" fill="#eeac62"/>
<circle cx="382.6" cy="122.6" r="1.4" fill="#d9b88c"/>
<circle cx="388.4" cy="122.6" r="1.4" fill="#d9b88c"/>
<circle cx="394.1" cy="122.6" r="1.4" fill="#bc9b74"/>
<circle cx="399.9" cy="122.6" r="1.4" fill="#eeac62"/>
<circle cx="411.4" cy="122.6" r="1.4" fill="#d66a6b"/>
<circle cx="376.9" cy="128.6" r="1.4" fill="#d9b88c"/>
<circle cx="382.6" cy="128.6" r="1.4" fill="#d9b88c"/>
<circle cx="388.4" cy="128.6" r="1.4" fill="#eeac62"/>
<circle cx="394.1" cy="128.6" r="1.4" fill="#d9b88c"/>
<circle cx="399.9" cy="128.6" r="1.4" fill="#f2bab0"/>
<circle cx="405.6" cy="128.6" r="1.4" fill="#f2bab0"/>
<circle cx="411.4" cy="128.6" r="1.4" fill="#d66a6b"/>
<circle cx="376.9" cy="134.6" r="1.4" fill="#6da46d"/>
<circle cx="382.6" cy="134.6" r="1.4" fill="#d66a6b"/>
<circle cx="388.4" cy="134.6" r="1.4" fill="#eeac62"/>
<circle cx="428.6" cy="86.3" r="1.4" fill="#6e9abe"/>
<circle cx="434.4" cy="86.3" r="1.4" fill="#eeac62"/>
<circle cx="445.9" cy="86.3" r="1.4" fill="#806aa1"/>
<circle cx="451.6" cy="86.3" r="1.4" fill="#6e9abe"/>
<circle cx="428.6" cy="92.4" r="1.4" fill="#eeac62"/>
<circle cx="434.4" cy="92.4" r="1.4" fill="#f2bab0"/>
<circle cx="440.1" cy="92.4" r="1.4" fill="#d9b88c"/>
<circle cx="451.6" cy="92.4" r="1.4" fill="#6e9abe"/>
<circle cx="417.1" cy="94.8" r="1.4" fill="#d66a6b"/>
<circle cx="428.6" cy="98.4" r="1.4" fill="#bc9b74"/>
<circle cx="440.1" cy="98.4" r="1.4" fill="#eeac62"/>
<circle cx="451.6" cy="98.4" r="1.4" fill="#6da46d"/>
<circle cx="417.1" cy="104.4" r="1.4" fill="#bc9b74"/>
<circle cx="422.9" cy="104.4" r="1.4" fill="#f2bab0"/>
<circle cx="445.9" cy="104.4" r="1.4" fill="#f2bab0"/>
<circle cx="417.1" cy="110.5" r="1.4" fill="#d66a6b"/>
<circle cx="422.9" cy="110.5" r="1.4" fill="#806aa1"/>
<circle cx="434.4" cy="110.5" r="1.4" fill="#d66a6b"/>
<circle cx="440.1" cy="110.5" r="1.4" fill="#f2bab0"/>
<circle cx="445.9" cy="110.5" r="1.4" fill="#ece2a7"/>
<circle cx="451.6" cy="110.5" r="1.4" fill="#ece2a7"/>
<circle cx="417.1" cy="116.5" r="1.4" fill="#eeac62"/>
<circle cx="422.9" cy="116.5" r="1.4" fill="#d9b88c"/>
<circle cx="428.6" cy="116.5" r="1.4" fill="#806aa1"/>
<circle cx="434.4" cy="116.5" r="1.4" fill="#806aa1"/>
<circle cx="440.1" cy="116.5" r="1.4" fill="#d66a6b"/>
<circle cx="445.9" cy="116.5" r="1.4" fill="#f2bab0"/>
<circle cx="451.6" cy="116.5" r="1.4" fill="#bc9b74"/>
<circle cx="457.4" cy="116.5" r="1.4" fill="#806aa1"/>
<circle cx="417.1" cy="122.6" r="1.4" fill="#ece2a7"/>
<circle cx="422.9" cy="122.6" r="1.4" fill="#d66a6b"/>
<circle cx="428.6" cy="122.6" r="1.4" fill="#bc9b74"/>
<circle cx="434.4" cy="122.6" r="1.4" fill="#806aa1"/>
<circle cx="440.1" cy="122.6" r="1.4" fill="#806aa1"/>
<circle cx="445.9" cy="122.6" r="1.4" fill="#d9b88c"/>
<circle cx="451.6" cy="122.6" r="1.4" fill="#bc9b74"/>
<circle cx="457.4" cy="122.6" r="1.4" fill="#6e9abe"/>
<circle cx="463.1" cy="122.6" r="1.4" fill="#6e9abe"/>
<circle cx="468.9" cy="122.6" r="1.4" fill="#ece2a7"/>
<circle cx="417.1" cy="128.6" r="1.4" fill="#806aa1"/>
<circle cx="422.9" cy="128.6" r="1.4" fill="#bad1aa"/>
<circle cx="428.6" cy="128.6" r="1.4" fill="#eeac62"/>
<circle cx="434.4" cy="128.6" r="1.4" fill="#ece2a7"/>
<circle cx="440.1" cy="128.6" r="1.4" fill="#806aa1"/>
<circle cx="445.9" cy="128.6" r="1.4" fill="#ece2a7"/>
<circle cx="451.6" cy="128.6" r="1.4" fill="#f2bab0"/>
<circle cx="457.4" cy="128.6" r="1.4" fill="#f2bab0"/>
<circle cx="463.1" cy="128.6" r="1.4" fill="#ece2a7"/>
<circle cx="468.9" cy="128.6" r="1.4" fill="#d66a6b"/>
<circle cx="411.4" cy="134.6" r="1.4" fill="#eeac62"/>
<circle cx="417.1" cy="134.6" r="1.4" fill="#bad1aa"/>
<circle cx="422.9" cy="134.6" r="1.4" fill="#806aa1"/>
<circle cx="428.6" cy="134.6" r="1.4" fill="#6da46d"/>
<circle cx="434.4" cy="134.6" r="1.4" fill="#806aa1"/>
<circle cx="440.1" cy="134.6" r="1.4" fill="#f2bab0"/>
<circle cx="445.9" cy="134.6" r="1.4" fill="#eeac62"/>
<circle cx="451.6" cy="134.6" r="1.4" fill="#d9b88c"/>
<circle cx="463.1" cy="134.6" r="1.4" fill="#806aa1"/>
<circle cx="480.4" cy="86.3" r="1.4" fill="#bad1aa"/>
<circle cx="474.6" cy="98.4" r="1.4" fill="#eeac62"/>
<circle cx="474.6" cy="104.4" r="1.4" fill="#eeac62"/>
<circle cx="514.9" cy="104.4" r="1.4" fill="#806aa1"/>
<circle cx="520.6" cy="104.4" r="1.4" fill="#806aa1"/>
<circle cx="532.1" cy="104.4" r="1.4" fill="#bad1aa"/>
<circle cx="474.6" cy="110.5" r="1.4" fill="#bad1aa"/>
<circle cx="474.6" cy="116.5" r="1.4" fill="#6e9abe"/>
<circle cx="480.4" cy="116.5" r="1.4" fill="#eeac62"/>
<circle cx="497.6" cy="116.5" r="1.4" fill="#806aa1"/>
<circle cx="480.4" cy="122.6" r="1.4" fill="#806aa1"/>
<circle cx="486.1" cy="122.6" r="1.4" fill="#bad1aa"/>
<circle cx="497.6" cy="122.6" r="1.4" fill="#806aa1"/>
<circle cx="514.9" cy="122.6" r="1.4" fill="#6da46d"/>
<circle cx="474.6" cy="128.6" r="1.4" fill="#f2bab0"/>
<circle cx="486.1" cy="128.6" r="1.4" fill="#806aa1"/>
<circle cx="491.9" cy="128.6" r="1.4" fill="#d66a6b"/>
<circle cx="503.4" cy="128.6" r="1.4" fill="#6e9abe"/>
<circle cx="468.9" cy="134.6" r="1.4" fill="#806aa1"/>
<circle cx="474.6" cy="134.6" r="1.4" fill="#6e9abe"/>
<circle cx="480.4" cy="134.6" r="1.4" fill="#806aa1"/>
<circle cx="486.1" cy="134.6" r="1.4" fill="#ece2a7"/>
<circle cx="491.9" cy="134.6" r="1.4" fill="#f2bab0"/>
<circle cx="371.1" cy="140.7" r="1.4" fill="#eeac62"/>
<circle cx="382.6" cy="140.7" r="1.4" fill="#6da46d"/>
<circle cx="388.4" cy="140.7" r="1.4" fill="#f2bab0"/>
<circle cx="394.1" cy="140.7" r="1.4" fill="#d9b88c"/>
<circle cx="399.9" cy="140.7" r="1.4" fill="#d66a6b"/>
<circle cx="359.6" cy="146.7" r="1.4" fill="#806aa1"/>
<circle cx="371.1" cy="146.7" r="1.4" fill="#6da46d"/>
<circle cx="376.9" cy="146.7" r="1.4" fill="#806aa1"/>
<circle cx="382.6" cy="146.7" r="1.4" fill="#f2bab0"/>
<circle cx="388.4" cy="146.7" r="1.4" fill="#806aa1"/>
<circle cx="394.1" cy="146.7" r="1.4" fill="#806aa1"/>
<circle cx="399.9" cy="146.7" r="1.4" fill="#806aa1"/>
<circle cx="405.6" cy="143.7" r="1.4" fill="#6da46d"/>
<circle cx="394.1" cy="149.7" r="1.4" fill="#bc9b74"/>
<circle cx="399.9" cy="149.7" r="1.4" fill="#d66a6b"/>
<circle cx="371.1" cy="152.8" r="1.4" fill="#d9b88c"/>
<circle cx="376.9" cy="152.8" r="1.4" fill="#806aa1"/>
<circle cx="382.6" cy="152.8" r="1.4" fill="#d9b88c"/>
<circle cx="388.4" cy="152.8" r="1.4" fill="#f2bab0"/>
<circle cx="394.1" cy="152.8" r="1.4" fill="#ece2a7"/>
<circle cx="399.9" cy="152.8" r="1.4" fill="#806aa1"/>
<circle cx="405.6" cy="152.8" r="1.4" fill="#806aa1"/>
<circle cx="411.4" cy="152.8" r="1.4" fill="#806aa1"/>
<circle cx="365.4" cy="158.8" r="1.4" fill="#ece2a7"/>
<circle cx="371.1" cy="158.8" r="1.4" fill="#806aa1"/>
<circle cx="376.9" cy="158.8" r="1.4" fill="#d9b88c"/>
<circle cx="382.6" cy="158.8" r="1.4" fill="#ece2a7"/>
<circle cx="388.4" cy="158.8" r="1.4" fill="#6da46d"/>
<circle cx="394.1" cy="158.8" r="1.4" fill="#806aa1"/>
<circle cx="399.9" cy="158.8" r="1.4" fill="#806aa1"/>
<circle cx="405.6" cy="158.8" r="1.4" fill="#d9b88c"/>
<circle cx="411.4" cy="158.8" r="1.4" fill="#ece2a7"/>
<circle cx="382.6" cy="164.8" r="1.4" fill="#6e9abe"/>
<circle cx="388.4" cy="164.8" r="1.4" fill="#806aa1"/>
<circle cx="394.1" cy="164.8" r="1.4" fill="#d9b88c"/>
<circle cx="399.9" cy="164.8" r="1.4" fill="#806aa1"/>
<circle cx="405.6" cy="164.8" r="1.4" fill="#806aa1"/>
<circle cx="411.4" cy="164.8" r="1.4" fill="#6e9abe"/>
<circle cx="371.1" cy="170.9" r="1.4" fill="#806aa1"/>
<circle cx="376.9" cy="170.9" r="1.4" fill="#806aa1"/>
<circle cx="394.1" cy="170.9" r="1.4" fill="#806aa1"/>
<circle cx="405.6" cy="170.9" r="1.4" fill="#d9b88c"/>
<circle cx="411.4" cy="170.9" r="1.4" fill="#f2bab0"/>
<circle cx="394.1" cy="176.9" r="1.4" fill="#d66a6b"/>
<circle cx="399.9" cy="176.9" r="1.4" fill="#eeac62"/>
<circle cx="405.6" cy="176.9" r="1.4" fill="#bad1aa"/>
<circle cx="376.9" cy="183.0" r="1.4" fill="#bc9b74"/>
<circle cx="382.6" cy="183.0" r="1.4" fill="#eeac62"/>
<circle cx="411.4" cy="140.7" r="1.4" fill="#eeac62"/>
<circle cx="417.1" cy="140.7" r="1.4" fill="#f2bab0"/>
<circle cx="428.6" cy="140.7" r="1.4" fill="#d9b88c"/>
<circle cx="434.4" cy="140.7" r="1.4" fill="#806aa1"/>
<circle cx="440.1" cy="140.7" r="1.4" fill="#f2bab0"/>
<circle cx="445.9" cy="140.7" r="1.4" fill="#eeac62"/>
<circle cx="457.4" cy="140.7" r="1.4" fill="#d66a6b"/>
<circle cx="463.1" cy="140.7" r="1.4" fill="#d9b88c"/>
<circle cx="417.1" cy="146.7" r="1.4" fill="#d9b88c"/>
<circle cx="422.9" cy="146.7" r="1.4" fill="#d66a6b"/>
<circle cx="428.6" cy="146.7" r="1.4" fill="#d9b88c"/>
<circle cx="434.4" cy="146.7" r="1.4" fill="#d66a6b"/>
<circle cx="440.1" cy="146.7" r="1.4" fill="#eeac62"/>
<circle cx="445.9" cy="146.7" r="1.4" fill="#d66a6b"/>
<circle cx="451.6" cy="146.7" r="1.4" fill="#d9b88c"/>
<circle cx="457.4" cy="146.7" r="1.4" fill="#f2bab0"/>
<circle cx="463.1" cy="146.7" r="1.4" fill="#bc9b74"/>
<circle cx="468.9" cy="146.7" r="1.4" fill="#bc9b74"/>
<circle cx="417.1" cy="152.8" r="1.4" fill="#bc9b74"/>
<circle cx="422.9" cy="152.8" r="1.4" fill="#eeac62"/>
<circle cx="428.6" cy="152.8" r="1.4" fill="#f2bab0"/>
<circle cx="434.4" cy="152.8" r="1.4" fill="#6e9abe"/>
<circle cx="440.1" cy="152.8" r="1.4" fill="#ece2a7"/>
<circle cx="445.9" cy="152.8" r="1.4" fill="#6da46d"/>
<circle cx="451.6" cy="152.8" r="1.4" fill="#d66a6b"/>
<circle cx="457.4" cy="152.8" r="1.4" fill="#d66a6b"/>
<circle cx="468.9" cy="152.8" r="1.4" fill="#806aa1"/>
<circle cx="422.9" cy="158.8" r="1.4" fill="#806aa1"/>
<circle cx="428.6" cy="158.8" r="1.4" fill="#f2bab0"/>
<circle cx="434.4" cy="158.8" r="1.4" fill="#806aa1"/>
<circle cx="440.1" cy="158.8" r="1.4" fill="#bc9b74"/>
<circle cx="451.6" cy="158.8" r="1.4" fill="#bc9b74"/>
<circle cx="457.4" cy="158.8" r="1.4" fill="#d66a6b"/>
<circle cx="463.1" cy="158.8" r="1.4" fill="#d66a6b"/>
<circle cx="417.1" cy="164.8" r="1.4" fill="#bc9b74"/>
<circle cx="422.9" cy="164.8" r="1.4" fill="#f2bab0"/>
<circle cx="428.6" cy="164.8" r="1.4" fill="#bad1aa"/>
<circle cx="434.4" cy="164.8" r="1.4" fill="#6da46d"/>
<circle cx="440.1" cy="164.8" r="1.4" fill="#eeac62"/>
<circle cx="445.9" cy="164.8" r="1.4" fill="#6da46d"/>
<circle cx="451.6" cy="164.8" r="1.4" fill="#6e9abe"/>
<circle cx="457.4" cy="164.8" r="1.4" fill="#f2bab0"/>
<circle cx="434.4" cy="170.9" r="1.4" fill="#eeac62"/>
<circle cx="422.9" cy="176.9" r="1.4" fill="#f2bab0"/>
<circle cx="434.4" cy="176.9" r="1.4" fill="#6e9abe"/>
<circle cx="440.1" cy="176.9" r="1.4" fill="#6e9abe"/>
<circle cx="428.6" cy="189.0" r="1.4" fill="#bc9b74"/>
<circle cx="468.9" cy="140.7" r="1.4" fill="#bad1aa"/>
<circle cx="480.4" cy="140.7" r="1.4" fill="#6da46d"/>
<circle cx="486.1" cy="140.7" r="1.4" fill="#6da46d"/>
<circle cx="497.6" cy="140.7" r="1.4" fill="#6da46d"/>
<circle cx="503.4" cy="140.7" r="1.4" fill="#ece2a7"/>
<circle cx="509.1" cy="140.7" r="1.4" fill="#ece2a7"/>
<circle cx="520.6" cy="140.7" r="1.4" fill="#6da46d"/>
<circle cx="474.6" cy="146.7" r="1.4" fill="#6e9abe"/>
<circle cx="480.4" cy="146.7" r="1.4" fill="#6da46d"/>
<circle cx="497.6" cy="146.7" r="1.4" fill="#6e9abe"/>
<circle cx="526.4" cy="146.7" r="1.4" fill="#806aa1"/>
<circle cx="474.6" cy="152.8" r="1.4" fill="#d9b88c"/>
<circle cx="480.4" cy="152.8" r="1.4" fill="#d9b88c"/>
<circle cx="526.4" cy="152.8" r="1.4" fill="#6da46d"/>
<circle cx="480.4" cy="158.8" r="1.4" fill="#6e9abe"/>
<circle cx="532.1" cy="158.8" r="1.4" fill="#6e9abe"/>
<circle cx="474.6" cy="164.8" r="1.4" fill="#6da46d"/>
<circle cx="491.9" cy="164.8" r="1.4" fill="#6e9abe"/>
<circle cx="468.9" cy="167.9" r="1.4" fill="#6da46d"/>
<circle cx="497.6" cy="170.9" r="1.4" fill="#6e9abe"/>
<line x1="383.8" y1="55.0" x2="421.5" y2="55.0" stroke="#c8c0a8" stroke-width="0.9" opacity="0.85"/>
<line x1="376.6" y1="64.1" x2="423.3" y2="64.1" stroke="#d0b890" stroke-width="0.9" opacity="0.85"/>
<line x1="405.0" y1="77.4" x2="412.0" y2="77.4" stroke="#b0b0b0" stroke-width="0.9" opacity="0.85"/>
<line x1="371.0" y1="82.6" x2="394.0" y2="82.6" stroke="#b0b0b0" stroke-width="0.9" opacity="0.85"/>
<line x1="406.0" y1="82.6" x2="430.5" y2="82.6" stroke="#d0b890" stroke-width="0.9" opacity="0.85"/>
<line x1="382.8" y1="89.5" x2="470.0" y2="89.5" stroke="#d4bc94" stroke-width="0.9" opacity="0.85"/>
<line x1="463.1" y1="74.4" x2="474.6" y2="74.4" stroke="#3c853c" stroke-width="0.9" opacity="0.85"/>
<line x1="410.0" y1="104.4" x2="463.4" y2="104.4" stroke="#d4bc94" stroke-width="0.9" opacity="0.85"/>
<line x1="388.0" y1="107.0" x2="452.0" y2="107.0" stroke="#5a8aa8" stroke-width="0.9" opacity="0.85"/>
<line x1="389.0" y1="107.6" x2="532.0" y2="107.4" stroke="#b0b0b0" stroke-width="0.9" opacity="0.85"/>
<line x1="371.0" y1="110.7" x2="473.7" y2="110.7" stroke="#c8b8a0" stroke-width="0.9" opacity="0.85"/>
<line x1="371.0" y1="112.3" x2="474.0" y2="112.3" stroke="#b0b0b0" stroke-width="0.9" opacity="0.85"/>
<line x1="410.0" y1="114.1" x2="441.0" y2="114.1" stroke="#a8b4c8" stroke-width="0.9" opacity="0.85"/>
<line x1="398.0" y1="117.3" x2="527.0" y2="117.3" stroke="#b0b0b0" stroke-width="0.9" opacity="0.85"/>
<line x1="478.0" y1="117.5" x2="512.0" y2="117.5" stroke="#8a70a8" stroke-width="0.9" opacity="0.85"/>
<line x1="400.0" y1="119.2" x2="435.0" y2="119.2" stroke="#c8a8b8" stroke-width="0.9" opacity="0.85"/>
<line x1="376.0" y1="120.2" x2="475.0" y2="120.2" stroke="#b8b8b8" stroke-width="0.9" opacity="0.85"/>
<line x1="371.0" y1="122.0" x2="497.0" y2="122.0" stroke="#c0c0c0" stroke-width="0.9" opacity="0.85"/>
<line x1="380.0" y1="123.8" x2="470.0" y2="123.8" stroke="#d89070" stroke-width="0.9" opacity="0.85"/>
<line x1="376.0" y1="125.8" x2="470.0" y2="125.8" stroke="#b0b0b0" stroke-width="0.9" opacity="0.85"/>
<line x1="371.0" y1="126.7" x2="498.0" y2="126.7" stroke="#b8b8b8" stroke-width="0.9" opacity="0.85"/>
<line x1="371.0" y1="128.9" x2="499.0" y2="128.9" stroke="#c0b8b0" stroke-width="0.9" opacity="0.85"/>
<line x1="430.0" y1="130.0" x2="470.0" y2="130.0" stroke="#90a8c8" stroke-width="0.9" opacity="0.85"/>
<line x1="465.0" y1="130.9" x2="500.0" y2="130.9" stroke="#d4bc94" stroke-width="0.9" opacity="0.85"/>
<line x1="383.0" y1="132.2" x2="470.0" y2="132.2" stroke="#c0b0b0" stroke-width="0.9" opacity="0.85"/>
<line x1="380.0" y1="133.6" x2="491.7" y2="133.6" stroke="#a890b8" stroke-width="0.9" opacity="0.85"/>
<line x1="376.0" y1="136.0" x2="490.0" y2="136.0" stroke="#b0b0b0" stroke-width="0.9" opacity="0.85"/>
<line x1="383.0" y1="138.0" x2="470.0" y2="138.0" stroke="#d89070" stroke-width="0.9" opacity="0.85"/>
<line x1="465.0" y1="139.6" x2="481.0" y2="139.6" stroke="#a88060" stroke-width="0.9" opacity="0.85"/>
<line x1="372.0" y1="140.5" x2="480.0" y2="140.5" stroke="#c8b898" stroke-width="0.9" opacity="0.85"/>
<line x1="480.0" y1="140.3" x2="527.7" y2="140.3" stroke="#a0a898" stroke-width="0.9" opacity="0.85"/>
<line x1="377.0" y1="143.3" x2="452.0" y2="143.3" stroke="#b0b0b0" stroke-width="0.9" opacity="0.85"/>
<line x1="382.0" y1="146.0" x2="470.0" y2="146.0" stroke="#b07860" stroke-width="0.9" opacity="0.85"/>
<line x1="400.0" y1="148.0" x2="470.0" y2="148.0" stroke="#b8b8b8" stroke-width="0.9" opacity="0.85"/>
<line x1="465.0" y1="148.2" x2="503.0" y2="148.2" stroke="#b0b0b0" stroke-width="0.9" opacity="0.85"/>
<line x1="465.0" y1="149.0" x2="498.0" y2="149.0" stroke="#d4bc94" stroke-width="0.9" opacity="0.85"/>
<line x1="372.0" y1="154.6" x2="452.0" y2="154.6" stroke="#c0b8a0" stroke-width="0.9" opacity="0.85"/>
<line x1="380.0" y1="156.2" x2="435.0" y2="156.2" stroke="#a898b8" stroke-width="0.9" opacity="0.85"/>
<line x1="360.0" y1="157.7" x2="470.0" y2="157.7" stroke="#a8a8a8" stroke-width="0.9" opacity="0.85"/>
<line x1="470.0" y1="158.3" x2="532.0" y2="158.3" stroke="#a0b4c8" stroke-width="0.9" opacity="0.85"/>
<line x1="395.0" y1="161.4" x2="440.0" y2="161.4" stroke="#b0b0b0" stroke-width="0.9" opacity="0.85"/>
<line x1="465.0" y1="131.5" x2="503.0" y2="131.5" stroke="#d4bc94" stroke-width="0.9" opacity="0.85"/></g>
<line x1="29.6" y1="281.32" x2="29.6" y2="487.0" stroke="#7a7a7a" stroke-width="0.9"/>
<line x1="26.20" y1="487.00" x2="29.6" y2="487.00" stroke="#7a7a7a" stroke-width="0.8"/>
<text x="0" y="0" transform="translate(21.60,487.00) rotate(-90) scale(0.88,1)" text-anchor="middle" font-size="6.4" fill="#4a4a4a" stroke="#4a4a4a" stroke-width="0.18">0</text>
<line x1="26.20" y1="452.72" x2="29.6" y2="452.72" stroke="#7a7a7a" stroke-width="0.8"/>
<text x="0" y="0" transform="translate(21.60,452.72) rotate(-90) scale(0.88,1)" text-anchor="middle" font-size="6.4" fill="#4a4a4a" stroke="#4a4a4a" stroke-width="0.18">10</text>
<line x1="26.20" y1="418.44" x2="29.6" y2="418.44" stroke="#7a7a7a" stroke-width="0.8"/>
<text x="0" y="0" transform="translate(21.60,418.44) rotate(-90) scale(0.88,1)" text-anchor="middle" font-size="6.4" fill="#4a4a4a" stroke="#4a4a4a" stroke-width="0.18">20</text>
<line x1="26.20" y1="384.16" x2="29.6" y2="384.16" stroke="#7a7a7a" stroke-width="0.8"/>
<text x="0" y="0" transform="translate(21.60,384.16) rotate(-90) scale(0.88,1)" text-anchor="middle" font-size="6.4" fill="#4a4a4a" stroke="#4a4a4a" stroke-width="0.18">30</text>
<line x1="26.20" y1="349.88" x2="29.6" y2="349.88" stroke="#7a7a7a" stroke-width="0.8"/>
<text x="0" y="0" transform="translate(21.60,349.88) rotate(-90) scale(0.88,1)" text-anchor="middle" font-size="6.4" fill="#4a4a4a" stroke="#4a4a4a" stroke-width="0.18">40</text>
<line x1="26.20" y1="315.60" x2="29.6" y2="315.60" stroke="#7a7a7a" stroke-width="0.8"/>
<text x="0" y="0" transform="translate(21.60,315.60) rotate(-90) scale(0.88,1)" text-anchor="middle" font-size="6.4" fill="#4a4a4a" stroke="#4a4a4a" stroke-width="0.18">50</text>
<line x1="26.20" y1="281.32" x2="29.6" y2="281.32" stroke="#7a7a7a" stroke-width="0.8"/>
<text x="0" y="0" transform="translate(21.60,281.32) rotate(-90) scale(0.88,1)" text-anchor="middle" font-size="6.4" fill="#4a4a4a" stroke="#4a4a4a" stroke-width="0.18">60</text>
<line x1="38.7" y1="495.8" x2="263.90" y2="495.8" stroke="#7a7a7a" stroke-width="0.9"/>
<line x1="38.70" y1="495.8" x2="38.70" y2="499.00" stroke="#7a7a7a" stroke-width="0.8"/>
<text x="0" y="0" transform="translate(38.70,508.80) scale(0.88,1)" text-anchor="middle" font-size="6.4" fill="#4a4a4a" stroke="#4a4a4a" stroke-width="0.18">0</text>
<line x1="95.00" y1="495.8" x2="95.00" y2="499.00" stroke="#7a7a7a" stroke-width="0.8"/>
<text x="0" y="0" transform="translate(95.00,508.80) scale(0.88,1)" text-anchor="middle" font-size="6.4" fill="#4a4a4a" stroke="#4a4a4a" stroke-width="0.18">2</text>
<line x1="151.30" y1="495.8" x2="151.30" y2="499.00" stroke="#7a7a7a" stroke-width="0.8"/>
<text x="0" y="0" transform="translate(151.30,508.80) scale(0.88,1)" text-anchor="middle" font-size="6.4" fill="#4a4a4a" stroke="#4a4a4a" stroke-width="0.18">4</text>
<line x1="207.60" y1="495.8" x2="207.60" y2="499.00" stroke="#7a7a7a" stroke-width="0.8"/>
<text x="0" y="0" transform="translate(207.60,508.80) scale(0.88,1)" text-anchor="middle" font-size="6.4" fill="#4a4a4a" stroke="#4a4a4a" stroke-width="0.18">6</text>
<line x1="263.90" y1="495.8" x2="263.90" y2="499.00" stroke="#7a7a7a" stroke-width="0.8"/>
<text x="0" y="0" transform="translate(263.90,508.80) scale(0.88,1)" text-anchor="middle" font-size="6.4" fill="#4a4a4a" stroke="#4a4a4a" stroke-width="0.18">8</text>
<text x="0" y="0" transform="translate(12.40,386.00) rotate(-90)" text-anchor="middle" font-size="6.6" font-weight="bold" fill="#1a1a1a">Crs (ml/cmH<tspan font-size="5" dy="1.5">2</tspan><tspan dy="-1.5">O)</tspan></text>
<text x="148.5" y="519.0" text-anchor="middle" font-size="7.25" font-weight="bold" fill="#1a1a1a">PVPI</text>
<text x="14.8" y="519.8" font-size="14.6" font-weight="bold" fill="#000">C</text>
<g filter="url(#bl)"><circle cx="126.4" cy="287.3" r="1.4" fill="#ac8554"/>
<circle cx="134.8" cy="290.9" r="1.4" fill="#4d83af"/>
<circle cx="98.3" cy="293.7" r="1.4" fill="#63488c"/>
<circle cx="126.4" cy="299.2" r="1.4" fill="#aac797"/>
<circle cx="101.0" cy="303.9" r="1.4" fill="#4c8f4c"/>
<circle cx="98.3" cy="306.8" r="1.4" fill="#63488c"/>
<circle cx="126.4" cy="306.8" r="1.4" fill="#4c8f4c"/>
<circle cx="129.5" cy="306.8" r="1.4" fill="#e8db93"/>
<circle cx="126.4" cy="309.2" r="1.4" fill="#4d83af"/>
<circle cx="95.3" cy="315.5" r="1.4" fill="#63488c"/>
<circle cx="123.8" cy="315.5" r="1.4" fill="#4c8f4c"/>
<circle cx="129.5" cy="315.5" r="1.4" fill="#ea993f"/>
<circle cx="143.4" cy="318.2" r="1.4" fill="#d0a872"/>
<circle cx="112.1" cy="322.7" r="1.4" fill="#d0a872"/>
<circle cx="126.4" cy="323.1" r="1.4" fill="#d0a872"/>
<circle cx="129.5" cy="320.4" r="1.4" fill="#4c8f4c"/>
<circle cx="143.4" cy="322.4" r="1.4" fill="#eeaa9e"/>
<circle cx="112.1" cy="326.4" r="1.4" fill="#d0a872"/>
<circle cx="117.8" cy="327.1" r="1.4" fill="#d0a872"/>
<circle cx="123.8" cy="325.1" r="1.4" fill="#63488c"/>
<circle cx="129.5" cy="324.8" r="1.4" fill="#63488c"/>
<circle cx="134.8" cy="327.1" r="1.4" fill="#4c8f4c"/>
<circle cx="107.2" cy="329.1" r="1.4" fill="#aac797"/>
<circle cx="129.5" cy="329.3" r="1.4" fill="#4d83af"/>
<circle cx="146.3" cy="330.4" r="1.4" fill="#cc484a"/>
<circle cx="117.8" cy="332.8" r="1.4" fill="#63488c"/>
<circle cx="126.4" cy="333.0" r="1.4" fill="#aac797"/>
<circle cx="129.5" cy="333.0" r="1.4" fill="#63488c"/>
<circle cx="134.8" cy="333.0" r="1.4" fill="#63488c"/>
<circle cx="137.7" cy="333.0" r="1.4" fill="#63488c"/>
<circle cx="140.7" cy="332.4" r="1.4" fill="#63488c"/>
<circle cx="143.4" cy="333.3" r="1.4" fill="#4d83af"/>
<circle cx="112.1" cy="334.4" r="1.4" fill="#63488c"/>
<circle cx="120.8" cy="334.4" r="1.4" fill="#eeaa9e"/>
<circle cx="103.9" cy="336.8" r="1.4" fill="#d0a872"/>
<circle cx="112.1" cy="336.8" r="1.4" fill="#d0a872"/>
<circle cx="123.8" cy="337.3" r="1.4" fill="#cc484a"/>
<circle cx="95.3" cy="339.4" r="1.4" fill="#63488c"/>
<circle cx="103.9" cy="341.3" r="1.4" fill="#eeaa9e"/>
<circle cx="120.8" cy="339.7" r="1.4" fill="#4c8f4c"/>
<circle cx="126.4" cy="342.3" r="1.4" fill="#4c8f4c"/>
<circle cx="129.5" cy="340.3" r="1.4" fill="#aac797"/>
<circle cx="134.8" cy="342.3" r="1.4" fill="#d0a872"/>
<circle cx="95.3" cy="343.0" r="1.4" fill="#63488c"/>
<circle cx="107.2" cy="343.0" r="1.4" fill="#4c8f4c"/>
<circle cx="103.9" cy="346.3" r="1.4" fill="#ea993f"/>
<circle cx="109.4" cy="346.6" r="1.4" fill="#4c8f4c"/>
<circle cx="112.1" cy="347.6" r="1.4" fill="#d0a872"/>
<circle cx="115.1" cy="346.6" r="1.4" fill="#aac797"/>
<circle cx="120.8" cy="346.3" r="1.4" fill="#63488c"/>
<circle cx="129.5" cy="345.0" r="1.4" fill="#63488c"/>
<circle cx="132.4" cy="347.0" r="1.4" fill="#ea993f"/>
<circle cx="134.8" cy="347.0" r="1.4" fill="#ea993f"/>
<circle cx="137.7" cy="347.0" r="1.4" fill="#63488c"/>
<circle cx="143.4" cy="345.6" r="1.4" fill="#4c8f4c"/>
<circle cx="92.6" cy="349.0" r="1.4" fill="#4c8f4c"/>
<circle cx="98.3" cy="349.0" r="1.4" fill="#63488c"/>
<circle cx="160.3" cy="294.2" r="1.4" fill="#ac8554"/>
<circle cx="182.8" cy="302.5" r="1.4" fill="#ea993f"/>
<circle cx="200.0" cy="301.5" r="1.4" fill="#ac8554"/>
<circle cx="211.0" cy="299.2" r="1.4" fill="#4d83af"/>
<circle cx="174.5" cy="320.8" r="1.4" fill="#4d83af"/>
<circle cx="163.0" cy="338.8" r="1.4" fill="#4c8f4c"/>
<circle cx="155.0" cy="342.1" r="1.4" fill="#4d83af"/>
<circle cx="163.0" cy="343.0" r="1.4" fill="#4c8f4c"/>
<circle cx="182.8" cy="341.0" r="1.4" fill="#eeaa9e"/>
<circle cx="180.2" cy="344.3" r="1.4" fill="#ac8554"/>
<circle cx="177.2" cy="345.3" r="1.4" fill="#e8db93"/>
<circle cx="156.6" cy="349.0" r="1.4" fill="#eeaa9e"/>
<circle cx="168.6" cy="349.0" r="1.4" fill="#cc484a"/>
<circle cx="182.5" cy="350.2" r="1.4" fill="#eeaa9e"/>
<circle cx="191.1" cy="349.0" r="1.4" fill="#e8db93"/>
<circle cx="203.0" cy="349.9" r="1.4" fill="#cc484a"/>
<circle cx="222.6" cy="332.8" r="1.4" fill="#4d83af"/>
<circle cx="236.6" cy="340.8" r="1.4" fill="#ac8554"/>
<circle cx="230.9" cy="343.9" r="1.4" fill="#4d83af"/>
<circle cx="219.5" cy="348.8" r="1.4" fill="#e8db93"/>
<circle cx="205.6" cy="354.4" r="1.4" fill="#d0a872"/>
<circle cx="253.6" cy="355.0" r="1.4" fill="#ac8554"/>
<circle cx="208.2" cy="360.5" r="1.4" fill="#ac8554"/>
<circle cx="210.9" cy="363.2" r="1.4" fill="#e8db93"/>
<circle cx="214.1" cy="367.5" r="1.4" fill="#63488c"/>
<circle cx="205.6" cy="372.6" r="1.4" fill="#cc484a"/>
<circle cx="208.2" cy="373.2" r="1.4" fill="#cc484a"/>
<circle cx="253.6" cy="371.5" r="1.4" fill="#ac8554"/>
<circle cx="205.6" cy="376.6" r="1.4" fill="#4c8f4c"/>
<circle cx="228.0" cy="378.6" r="1.4" fill="#cc484a"/>
<circle cx="239.1" cy="379.1" r="1.4" fill="#e8db93"/>
<circle cx="248.0" cy="377.5" r="1.4" fill="#4d83af"/>
<circle cx="242.3" cy="384.3" r="1.4" fill="#ac8554"/>
<circle cx="92.3" cy="349.9" r="1.4" fill="#4c8f4c"/>
<circle cx="98.2" cy="352.0" r="1.4" fill="#63488c"/>
<circle cx="107.0" cy="349.9" r="1.4" fill="#4c8f4c"/>
<circle cx="104.1" cy="346.7" r="1.4" fill="#d0a872"/>
<circle cx="109.4" cy="346.7" r="1.4" fill="#4c8f4c"/>
<circle cx="120.7" cy="346.7" r="1.4" fill="#63488c"/>
<circle cx="126.4" cy="347.4" r="1.4" fill="#d0a872"/>
<circle cx="101.0" cy="352.8" r="1.4" fill="#eeaa9e"/>
<circle cx="95.2" cy="356.2" r="1.4" fill="#63488c"/>
<circle cx="107.0" cy="356.2" r="1.4" fill="#63488c"/>
<circle cx="117.9" cy="356.2" r="1.4" fill="#e8db93"/>
<circle cx="123.6" cy="356.2" r="1.4" fill="#4c8f4c"/>
<circle cx="126.4" cy="352.6" r="1.4" fill="#aac797"/>
<circle cx="92.3" cy="358.7" r="1.4" fill="#63488c"/>
<circle cx="84.3" cy="361.6" r="1.4" fill="#ac8554"/>
<circle cx="89.5" cy="361.9" r="1.4" fill="#63488c"/>
<circle cx="92.3" cy="361.6" r="1.4" fill="#ea993f"/>
<circle cx="95.2" cy="362.0" r="1.4" fill="#ac8554"/>
<circle cx="107.0" cy="362.0" r="1.4" fill="#ea993f"/>
<circle cx="112.2" cy="362.5" r="1.4" fill="#63488c"/>
<circle cx="117.9" cy="362.5" r="1.4" fill="#63488c"/>
<circle cx="123.6" cy="362.0" r="1.4" fill="#ea993f"/>
<circle cx="86.6" cy="367.3" r="1.4" fill="#ea993f"/>
<circle cx="92.3" cy="365.4" r="1.4" fill="#4d83af"/>
<circle cx="104.1" cy="365.4" r="1.4" fill="#ea993f"/>
<circle cx="112.2" cy="365.8" r="1.4" fill="#eeaa9e"/>
<circle cx="120.7" cy="364.9" r="1.4" fill="#aac797"/>
<circle cx="126.4" cy="365.4" r="1.4" fill="#aac797"/>
<circle cx="98.2" cy="370.4" r="1.4" fill="#4c8f4c"/>
<circle cx="117.9" cy="369.8" r="1.4" fill="#ac8554"/>
<circle cx="123.6" cy="370.6" r="1.4" fill="#ea993f"/>
<circle cx="89.5" cy="372.9" r="1.4" fill="#ea993f"/>
<circle cx="104.1" cy="372.9" r="1.4" fill="#63488c"/>
<circle cx="120.7" cy="372.5" r="1.4" fill="#cc484a"/>
<circle cx="129.2" cy="372.5" r="1.4" fill="#cc484a"/>
<circle cx="89.5" cy="375.8" r="1.4" fill="#4c8f4c"/>
<circle cx="98.2" cy="375.1" r="1.4" fill="#eeaa9e"/>
<circle cx="107.0" cy="375.1" r="1.4" fill="#eeaa9e"/>
<circle cx="86.6" cy="378.0" r="1.4" fill="#ac8554"/>
<circle cx="89.5" cy="378.6" r="1.4" fill="#4c8f4c"/>
<circle cx="98.2" cy="378.3" r="1.4" fill="#4c8f4c"/>
<circle cx="101.0" cy="378.1" r="1.4" fill="#cc484a"/>
<circle cx="104.1" cy="377.2" r="1.4" fill="#ea993f"/>
<circle cx="109.4" cy="378.6" r="1.4" fill="#63488c"/>
<circle cx="115.0" cy="378.1" r="1.4" fill="#63488c"/>
<circle cx="123.6" cy="377.2" r="1.4" fill="#ea993f"/>
<circle cx="89.5" cy="380.5" r="1.4" fill="#4c8f4c"/>
<circle cx="95.2" cy="381.9" r="1.4" fill="#ea993f"/>
<circle cx="104.1" cy="381.5" r="1.4" fill="#63488c"/>
<circle cx="109.4" cy="381.5" r="1.4" fill="#4d83af"/>
<circle cx="115.0" cy="381.0" r="1.4" fill="#ea993f"/>
<circle cx="120.7" cy="381.0" r="1.4" fill="#ea993f"/>
<circle cx="98.2" cy="384.0" r="1.4" fill="#4c8f4c"/>
<circle cx="107.0" cy="383.8" r="1.4" fill="#cc484a"/>
<circle cx="117.9" cy="384.3" r="1.4" fill="#63488c"/>
<circle cx="126.4" cy="382.9" r="1.4" fill="#ea993f"/>
<circle cx="112.2" cy="386.7" r="1.4" fill="#4c8f4c"/>
<circle cx="117.9" cy="388.1" r="1.4" fill="#ea993f"/>
<circle cx="92.3" cy="389.5" r="1.4" fill="#ea993f"/>
<circle cx="104.1" cy="390.9" r="1.4" fill="#4c8f4c"/>
<circle cx="115.0" cy="389.5" r="1.4" fill="#ea993f"/>
<circle cx="123.6" cy="389.5" r="1.4" fill="#ea993f"/>
<circle cx="86.6" cy="394.2" r="1.4" fill="#4c8f4c"/>
<circle cx="112.2" cy="392.8" r="1.4" fill="#ea993f"/>
<circle cx="120.7" cy="392.8" r="1.4" fill="#ea993f"/>
<circle cx="78.6" cy="338.9" r="1.4" fill="#e8db93"/>
<circle cx="95.3" cy="339.7" r="1.4" fill="#63488c"/>
<circle cx="58.9" cy="372.7" r="1.4" fill="#63488c"/>
<circle cx="89.2" cy="361.2" r="1.4" fill="#63488c"/>
<circle cx="86.7" cy="367.0" r="1.4" fill="#ea993f"/>
<circle cx="98.3" cy="370.0" r="1.4" fill="#4c8f4c"/>
<circle cx="89.2" cy="372.7" r="1.4" fill="#ea993f"/>
<circle cx="98.3" cy="374.8" r="1.4" fill="#eeaa9e"/>
<circle cx="89.2" cy="376.1" r="1.4" fill="#4c8f4c"/>
<circle cx="95.3" cy="382.1" r="1.4" fill="#ea993f"/>
<circle cx="98.3" cy="384.4" r="1.4" fill="#ac8554"/>
<circle cx="92.3" cy="389.7" r="1.4" fill="#ea993f"/>
<circle cx="89.2" cy="397.3" r="1.4" fill="#63488c"/>
<circle cx="92.3" cy="397.3" r="1.4" fill="#4c8f4c"/>
<circle cx="98.3" cy="397.3" r="1.4" fill="#ea993f"/>
<circle cx="72.9" cy="414.0" r="1.4" fill="#4c8f4c"/>
<circle cx="86.7" cy="395.3" r="1.4" fill="#4c8f4c"/>
<circle cx="89.7" cy="397.4" r="1.4" fill="#63488c"/>
<circle cx="92.8" cy="397.4" r="1.4" fill="#4c8f4c"/>
<circle cx="98.1" cy="397.0" r="1.4" fill="#ea993f"/>
<circle cx="98.1" cy="400.0" r="1.4" fill="#4c8f4c"/>
<circle cx="101.3" cy="401.0" r="1.4" fill="#4d83af"/>
<circle cx="104.3" cy="402.3" r="1.4" fill="#4c8f4c"/>
<circle cx="109.0" cy="395.7" r="1.4" fill="#63488c"/>
<circle cx="98.4" cy="404.0" r="1.4" fill="#e8db93"/>
<circle cx="104.3" cy="405.9" r="1.4" fill="#cc484a"/>
<circle cx="92.4" cy="409.9" r="1.4" fill="#aac797"/>
<circle cx="95.4" cy="409.9" r="1.4" fill="#ac8554"/>
<circle cx="95.4" cy="413.6" r="1.4" fill="#ea993f"/>
<circle cx="101.3" cy="408.3" r="1.4" fill="#ea993f"/>
<circle cx="101.3" cy="411.6" r="1.4" fill="#ac8554"/>
<circle cx="104.3" cy="412.0" r="1.4" fill="#4d83af"/>
<circle cx="104.3" cy="418.9" r="1.4" fill="#63488c"/>
<circle cx="98.4" cy="420.9" r="1.4" fill="#ac8554"/>
<circle cx="101.3" cy="422.2" r="1.4" fill="#ea993f"/>
<circle cx="109.0" cy="422.2" r="1.4" fill="#63488c"/>
<circle cx="101.3" cy="427.5" r="1.4" fill="#4c8f4c"/>
<circle cx="107.0" cy="427.5" r="1.4" fill="#4c8f4c"/>
<circle cx="109.0" cy="426.6" r="1.4" fill="#cc484a"/>
<circle cx="109.0" cy="431.1" r="1.4" fill="#ac8554"/>
<circle cx="107.0" cy="436.8" r="1.4" fill="#d0a872"/>
<circle cx="98.4" cy="437.4" r="1.4" fill="#ea993f"/>
<circle cx="101.3" cy="438.5" r="1.4" fill="#63488c"/>
<circle cx="104.3" cy="438.8" r="1.4" fill="#d0a872"/>
<circle cx="107.0" cy="439.4" r="1.4" fill="#ea993f"/>
<circle cx="109.0" cy="447.8" r="1.4" fill="#aac797"/>
<circle cx="89.7" cy="448.7" r="1.4" fill="#d0a872"/>
<circle cx="81.4" cy="452.0" r="1.4" fill="#d0a872"/>
<circle cx="98.4" cy="454.0" r="1.4" fill="#d0a872"/>
<circle cx="81.4" cy="458.4" r="1.4" fill="#d0a872"/>
<circle cx="98.4" cy="460.6" r="1.4" fill="#d0a872"/>
<circle cx="107.0" cy="460.3" r="1.4" fill="#d0a872"/>
<circle cx="109.0" cy="421.9" r="1.4" fill="#63488c"/>
<circle cx="109.6" cy="426.5" r="1.4" fill="#cc484a"/>
<circle cx="106.6" cy="427.9" r="1.4" fill="#4c8f4c"/>
<circle cx="109.6" cy="431.8" r="1.4" fill="#ac8554"/>
<circle cx="123.6" cy="421.9" r="1.4" fill="#cc484a"/>
<circle cx="126.2" cy="424.5" r="1.4" fill="#cc484a"/>
<circle cx="129.5" cy="424.5" r="1.4" fill="#63488c"/>
<circle cx="132.2" cy="425.2" r="1.4" fill="#ea993f"/>
<circle cx="134.8" cy="422.5" r="1.4" fill="#cc484a"/>
<circle cx="137.9" cy="421.2" r="1.4" fill="#4d83af"/>
<circle cx="140.5" cy="421.2" r="1.4" fill="#ea993f"/>
<circle cx="132.2" cy="427.9" r="1.4" fill="#ea993f"/>
<circle cx="137.9" cy="425.2" r="1.4" fill="#ea993f"/>
<circle cx="140.8" cy="425.2" r="1.4" fill="#eeaa9e"/>
<circle cx="146.4" cy="421.9" r="1.4" fill="#4d83af"/>
<circle cx="149.4" cy="424.5" r="1.4" fill="#ea993f"/>
<circle cx="157.4" cy="425.9" r="1.4" fill="#ea993f"/>
<circle cx="160.7" cy="421.9" r="1.4" fill="#4d83af"/>
<circle cx="163.4" cy="424.5" r="1.4" fill="#aac797"/>
<circle cx="166.0" cy="424.5" r="1.4" fill="#aac797"/>
<circle cx="120.9" cy="429.2" r="1.4" fill="#cc484a"/>
<circle cx="126.2" cy="430.8" r="1.4" fill="#ea993f"/>
<circle cx="137.5" cy="430.2" r="1.4" fill="#aac797"/>
<circle cx="143.5" cy="432.5" r="1.4" fill="#ac8554"/>
<circle cx="157.4" cy="429.8" r="1.4" fill="#ea993f"/>
<circle cx="166.0" cy="431.6" r="1.4" fill="#cc484a"/>
<circle cx="106.6" cy="436.5" r="1.4" fill="#d0a872"/>
<circle cx="106.6" cy="439.1" r="1.4" fill="#ea993f"/>
<circle cx="112.3" cy="439.5" r="1.4" fill="#aac797"/>
<circle cx="118.3" cy="435.8" r="1.4" fill="#cc484a"/>
<circle cx="126.2" cy="436.5" r="1.4" fill="#cc484a"/>
<circle cx="129.5" cy="434.7" r="1.4" fill="#aac797"/>
<circle cx="134.8" cy="433.8" r="1.4" fill="#ea993f"/>
<circle cx="137.5" cy="435.8" r="1.4" fill="#ea993f"/>
<circle cx="137.5" cy="438.7" r="1.4" fill="#ac8554"/>
<circle cx="126.2" cy="439.1" r="1.4" fill="#63488c"/>
<circle cx="134.8" cy="440.5" r="1.4" fill="#63488c"/>
<circle cx="162.7" cy="434.5" r="1.4" fill="#aac797"/>
<circle cx="174.0" cy="435.1" r="1.4" fill="#ea993f"/>
<circle cx="137.9" cy="444.4" r="1.4" fill="#63488c"/>
<circle cx="149.4" cy="442.7" r="1.4" fill="#ea993f"/>
<circle cx="109.6" cy="447.5" r="1.4" fill="#aac797"/>
<circle cx="126.2" cy="447.5" r="1.4" fill="#ea993f"/>
<circle cx="129.5" cy="449.7" r="1.4" fill="#ea993f"/>
<circle cx="129.5" cy="452.4" r="1.4" fill="#aac797"/>
<circle cx="132.2" cy="451.1" r="1.4" fill="#ea993f"/>
<circle cx="134.8" cy="454.4" r="1.4" fill="#ea993f"/>
<circle cx="146.4" cy="446.4" r="1.4" fill="#63488c"/>
<circle cx="152.1" cy="451.7" r="1.4" fill="#63488c"/>
<circle cx="154.7" cy="452.0" r="1.4" fill="#ea993f"/>
<circle cx="163.4" cy="446.7" r="1.4" fill="#ea993f"/>
<circle cx="172.0" cy="447.5" r="1.4" fill="#ea993f"/>
<circle cx="172.0" cy="449.7" r="1.4" fill="#ac8554"/>
<circle cx="149.4" cy="458.4" r="1.4" fill="#ea993f"/>
<circle cx="106.6" cy="460.3" r="1.4" fill="#d0a872"/>
<circle cx="112.3" cy="461.0" r="1.4" fill="#d0a872"/>
<circle cx="114.9" cy="461.7" r="1.4" fill="#d0a872"/>
<circle cx="111.6" cy="402.0" r="1.4" fill="#ea993f"/>
<circle cx="117.0" cy="402.0" r="1.4" fill="#cc484a"/>
<circle cx="123.6" cy="405.3" r="1.4" fill="#cc484a"/>
<circle cx="126.9" cy="406.0" r="1.4" fill="#eeaa9e"/>
<circle cx="131.5" cy="405.3" r="1.4" fill="#cc484a"/>
<circle cx="134.8" cy="408.0" r="1.4" fill="#4d83af"/>
<circle cx="137.5" cy="406.0" r="1.4" fill="#cc484a"/>
<circle cx="140.8" cy="410.0" r="1.4" fill="#4d83af"/>
<circle cx="143.5" cy="405.3" r="1.4" fill="#eeaa9e"/>
<circle cx="146.4" cy="413.3" r="1.4" fill="#cc484a"/>
<circle cx="149.4" cy="406.0" r="1.4" fill="#cc484a"/>
<circle cx="152.1" cy="416.6" r="1.4" fill="#cc484a"/>
<circle cx="154.7" cy="405.3" r="1.4" fill="#63488c"/>
<circle cx="160.7" cy="402.0" r="1.4" fill="#ea993f"/>
<circle cx="163.4" cy="406.6" r="1.4" fill="#cc484a"/>
<circle cx="168.7" cy="406.0" r="1.4" fill="#4d83af"/>
<circle cx="172.0" cy="404.0" r="1.4" fill="#d0a872"/>
<circle cx="171.3" cy="415.9" r="1.4" fill="#ea993f"/>
<circle cx="120.9" cy="413.3" r="1.4" fill="#eeaa9e"/>
<circle cx="124.2" cy="414.6" r="1.4" fill="#63488c"/>
<circle cx="129.5" cy="413.3" r="1.4" fill="#cc484a"/>
<circle cx="132.2" cy="410.6" r="1.4" fill="#cc484a"/>
<circle cx="137.5" cy="413.3" r="1.4" fill="#cc484a"/>
<circle cx="140.5" cy="413.3" r="1.4" fill="#4d83af"/>
<circle cx="152.1" cy="411.3" r="1.4" fill="#eeaa9e"/>
<circle cx="155.1" cy="418.6" r="1.4" fill="#4d83af"/>
<circle cx="126.2" cy="417.9" r="1.4" fill="#4c8f4c"/>
<circle cx="113.0" cy="412.6" r="1.4" fill="#d0a872"/>
<circle cx="106.3" cy="406.0" r="1.4" fill="#63488c"/>
<circle cx="107.7" cy="402.0" r="1.4" fill="#ea993f"/>
<circle cx="118.3" cy="406.6" r="1.4" fill="#ea993f"/>
<circle cx="112.3" cy="409.3" r="1.4" fill="#d0a872"/>
<circle cx="188.4" cy="385.9" r="1.4" fill="#ea993f"/>
<circle cx="199.8" cy="387.6" r="1.4" fill="#e8db93"/>
<circle cx="242.4" cy="385.3" r="1.4" fill="#4c8f4c"/>
<circle cx="185.7" cy="392.2" r="1.4" fill="#ea993f"/>
<circle cx="194.2" cy="392.2" r="1.4" fill="#4d83af"/>
<circle cx="239.0" cy="393.2" r="1.4" fill="#4d83af"/>
<circle cx="175.1" cy="394.4" r="1.4" fill="#d0a872"/>
<circle cx="180.2" cy="393.5" r="1.4" fill="#ea993f"/>
<circle cx="182.8" cy="397.8" r="1.4" fill="#cc484a"/>
<circle cx="200.3" cy="395.6" r="1.4" fill="#cc484a"/>
<circle cx="208.3" cy="395.6" r="1.4" fill="#63488c"/>
<circle cx="214.0" cy="398.6" r="1.4" fill="#cc484a"/>
<circle cx="222.8" cy="396.1" r="1.4" fill="#eeaa9e"/>
<circle cx="227.9" cy="401.2" r="1.4" fill="#cc484a"/>
<circle cx="210.9" cy="401.2" r="1.4" fill="#aac797"/>
<circle cx="197.3" cy="402.9" r="1.4" fill="#cc484a"/>
<circle cx="188.7" cy="402.0" r="1.4" fill="#cc484a"/>
<circle cx="176.8" cy="401.2" r="1.4" fill="#63488c"/>
<circle cx="172.6" cy="402.0" r="1.4" fill="#cc484a"/>
<circle cx="171.7" cy="404.6" r="1.4" fill="#4c8f4c"/>
<circle cx="216.8" cy="406.8" r="1.4" fill="#63488c"/>
<circle cx="248.0" cy="406.8" r="1.4" fill="#63488c"/>
<circle cx="191.3" cy="406.3" r="1.4" fill="#aac797"/>
<circle cx="199.8" cy="408.0" r="1.4" fill="#eeaa9e"/>
<circle cx="188.4" cy="411.4" r="1.4" fill="#63488c"/>
<circle cx="194.2" cy="410.9" r="1.4" fill="#aac797"/>
<circle cx="205.8" cy="410.2" r="1.4" fill="#eeaa9e"/>
<circle cx="216.8" cy="414.3" r="1.4" fill="#aac797"/>
<circle cx="233.9" cy="412.6" r="1.4" fill="#aac797"/>
<circle cx="242.4" cy="412.6" r="1.4" fill="#aac797"/>
<circle cx="171.7" cy="416.5" r="1.4" fill="#ea993f"/>
<circle cx="174.3" cy="418.7" r="1.4" fill="#aac797"/>
<circle cx="191.3" cy="418.7" r="1.4" fill="#4d83af"/>
<circle cx="185.7" cy="421.1" r="1.4" fill="#63488c"/>
<circle cx="197.3" cy="420.8" r="1.4" fill="#cc484a"/>
<circle cx="199.8" cy="421.6" r="1.4" fill="#4d83af"/>
<circle cx="219.4" cy="420.4" r="1.4" fill="#ea993f"/>
<circle cx="250.9" cy="423.8" r="1.4" fill="#aac797"/>
<circle cx="182.8" cy="425.5" r="1.4" fill="#cc484a"/>
<circle cx="188.4" cy="426.7" r="1.4" fill="#ea993f"/>
<circle cx="208.3" cy="426.7" r="1.4" fill="#ea993f"/>
<circle cx="177.7" cy="429.6" r="1.4" fill="#eeaa9e"/>
<circle cx="180.6" cy="430.1" r="1.4" fill="#4c8f4c"/>
<circle cx="182.8" cy="429.0" r="1.4" fill="#aac797"/>
<circle cx="185.7" cy="431.8" r="1.4" fill="#ea993f"/>
<circle cx="200.3" cy="430.1" r="1.4" fill="#4c8f4c"/>
<circle cx="202.7" cy="432.4" r="1.4" fill="#4d83af"/>
<circle cx="174.8" cy="434.7" r="1.4" fill="#ea993f"/>
<circle cx="200.3" cy="437.0" r="1.4" fill="#ea993f"/>
<circle cx="177.7" cy="440.4" r="1.4" fill="#ea993f"/>
<circle cx="180.2" cy="445.5" r="1.4" fill="#ea993f"/>
<circle cx="191.3" cy="444.3" r="1.4" fill="#ea993f"/>
<circle cx="171.7" cy="447.7" r="1.4" fill="#ea993f"/>
<circle cx="171.7" cy="449.7" r="1.4" fill="#aac797"/>
<circle cx="191.3" cy="449.4" r="1.4" fill="#ea993f"/>
<circle cx="129.4" cy="346.7" r="1.4" fill="#ea993f"/>
<circle cx="134.6" cy="346.7" r="1.4" fill="#cc484a"/>
<circle cx="137.5" cy="346.7" r="1.4" fill="#63488c"/>
<circle cx="143.2" cy="346.1" r="1.4" fill="#ac8554"/>
<circle cx="157.4" cy="349.3" r="1.4" fill="#eeaa9e"/>
<circle cx="168.7" cy="349.7" r="1.4" fill="#eeaa9e"/>
<circle cx="132.3" cy="355.4" r="1.4" fill="#4d83af"/>
<circle cx="140.3" cy="354.5" r="1.4" fill="#ac8554"/>
<circle cx="152.1" cy="351.8" r="1.4" fill="#63488c"/>
<circle cx="157.4" cy="352.1" r="1.4" fill="#cc484a"/>
<circle cx="163.0" cy="353.5" r="1.4" fill="#ea993f"/>
<circle cx="155.5" cy="355.4" r="1.4" fill="#d0a872"/>
<circle cx="157.4" cy="355.9" r="1.4" fill="#63488c"/>
<circle cx="176.8" cy="354.5" r="1.4" fill="#d0a872"/>
<circle cx="134.6" cy="362.0" r="1.4" fill="#63488c"/>
<circle cx="146.0" cy="360.6" r="1.4" fill="#cc484a"/>
<circle cx="143.2" cy="361.1" r="1.4" fill="#cc484a"/>
<circle cx="155.0" cy="361.6" r="1.4" fill="#aac797"/>
<circle cx="160.2" cy="363.0" r="1.4" fill="#63488c"/>
<circle cx="165.9" cy="358.7" r="1.4" fill="#4c8f4c"/>
<circle cx="168.7" cy="358.7" r="1.4" fill="#4c8f4c"/>
<circle cx="174.4" cy="362.0" r="1.4" fill="#aac797"/>
<circle cx="137.5" cy="364.9" r="1.4" fill="#aac797"/>
<circle cx="146.0" cy="364.9" r="1.4" fill="#ea993f"/>
<circle cx="151.7" cy="367.7" r="1.4" fill="#ea993f"/>
<circle cx="168.7" cy="364.4" r="1.4" fill="#cc484a"/>
<circle cx="168.7" cy="368.2" r="1.4" fill="#4c8f4c"/>
<circle cx="171.6" cy="368.2" r="1.4" fill="#63488c"/>
<circle cx="157.8" cy="368.2" r="1.4" fill="#eeaa9e"/>
<circle cx="129.4" cy="372.0" r="1.4" fill="#cc484a"/>
<circle cx="134.6" cy="372.5" r="1.4" fill="#cc484a"/>
<circle cx="140.3" cy="372.9" r="1.4" fill="#eeaa9e"/>
<circle cx="148.8" cy="372.9" r="1.4" fill="#e8db93"/>
<circle cx="165.9" cy="373.9" r="1.4" fill="#4d83af"/>
<circle cx="163.0" cy="375.8" r="1.4" fill="#63488c"/>
<circle cx="168.7" cy="376.7" r="1.4" fill="#63488c"/>
<circle cx="177.2" cy="378.1" r="1.4" fill="#4c8f4c"/>
<circle cx="137.5" cy="376.3" r="1.4" fill="#eeaa9e"/>
<circle cx="140.3" cy="378.1" r="1.4" fill="#63488c"/>
<circle cx="143.2" cy="378.1" r="1.4" fill="#cc484a"/>
<circle cx="148.8" cy="378.1" r="1.4" fill="#cc484a"/>
<circle cx="151.7" cy="377.2" r="1.4" fill="#eeaa9e"/>
<circle cx="155.0" cy="378.1" r="1.4" fill="#eeaa9e"/>
<circle cx="134.6" cy="382.9" r="1.4" fill="#4d83af"/>
<circle cx="137.5" cy="381.5" r="1.4" fill="#4c8f4c"/>
<circle cx="143.2" cy="382.9" r="1.4" fill="#cc484a"/>
<circle cx="155.0" cy="381.9" r="1.4" fill="#ea993f"/>
<circle cx="160.2" cy="382.9" r="1.4" fill="#d0a872"/>
<circle cx="165.9" cy="382.4" r="1.4" fill="#eeaa9e"/>
<circle cx="171.6" cy="381.9" r="1.4" fill="#63488c"/>
<circle cx="129.9" cy="384.8" r="1.4" fill="#ea993f"/>
<circle cx="140.3" cy="384.3" r="1.4" fill="#cc484a"/>
<circle cx="146.0" cy="385.7" r="1.4" fill="#ea993f"/>
<circle cx="151.7" cy="385.2" r="1.4" fill="#ea993f"/>
<circle cx="157.4" cy="385.2" r="1.4" fill="#eeaa9e"/>
<circle cx="163.0" cy="385.7" r="1.4" fill="#eeaa9e"/>
<circle cx="168.7" cy="385.7" r="1.4" fill="#63488c"/>
<circle cx="129.9" cy="389.5" r="1.4" fill="#63488c"/>
<circle cx="134.6" cy="388.1" r="1.4" fill="#cc484a"/>
<circle cx="140.3" cy="388.6" r="1.4" fill="#ea993f"/>
<circle cx="143.2" cy="387.6" r="1.4" fill="#cc484a"/>
<circle cx="148.8" cy="388.1" r="1.4" fill="#ea993f"/>
<circle cx="151.7" cy="389.0" r="1.4" fill="#cc484a"/>
<circle cx="160.2" cy="388.6" r="1.4" fill="#63488c"/>
<circle cx="163.0" cy="390.5" r="1.4" fill="#4c8f4c"/>
<circle cx="171.6" cy="389.5" r="1.4" fill="#d0a872"/>
<circle cx="137.5" cy="392.3" r="1.4" fill="#ea993f"/>
<circle cx="146.0" cy="391.9" r="1.4" fill="#4d83af"/>
<circle cx="152.1" cy="391.4" r="1.4" fill="#63488c"/>
<circle cx="165.9" cy="392.3" r="1.4" fill="#cc484a"/>
<circle cx="143.2" cy="393.8" r="1.4" fill="#ea993f"/>
<circle cx="154.5" cy="393.8" r="1.4" fill="#ea993f"/>
<circle cx="168.7" cy="393.8" r="1.4" fill="#eeaa9e"/>
<circle cx="182.7" cy="350.2" r="1.4" fill="#eeaa9e"/>
<circle cx="191.4" cy="348.8" r="1.4" fill="#e8db93"/>
<circle cx="191.4" cy="352.2" r="1.4" fill="#4d83af"/>
<circle cx="177.4" cy="354.8" r="1.4" fill="#ac8554"/>
<circle cx="180.5" cy="354.4" r="1.4" fill="#63488c"/>
<circle cx="174.5" cy="361.8" r="1.4" fill="#4d83af"/>
<circle cx="182.7" cy="360.9" r="1.4" fill="#4d83af"/>
<circle cx="185.3" cy="361.6" r="1.4" fill="#eeaa9e"/>
<circle cx="171.7" cy="368.6" r="1.4" fill="#63488c"/>
<circle cx="191.4" cy="368.1" r="1.4" fill="#ea993f"/>
<circle cx="197.3" cy="367.5" r="1.4" fill="#4d83af"/>
<circle cx="199.8" cy="365.2" r="1.4" fill="#cc484a"/>
<circle cx="194.4" cy="365.2" r="1.4" fill="#e8db93"/>
<circle cx="180.2" cy="374.3" r="1.4" fill="#ea993f"/>
<circle cx="185.9" cy="374.9" r="1.4" fill="#cc484a"/>
<circle cx="188.8" cy="375.5" r="1.4" fill="#cc484a"/>
<circle cx="194.1" cy="373.2" r="1.4" fill="#63488c"/>
<circle cx="205.2" cy="372.3" r="1.4" fill="#63488c"/>
<circle cx="203.0" cy="376.0" r="1.4" fill="#63488c"/>
<circle cx="177.4" cy="378.9" r="1.4" fill="#4c8f4c"/>
<circle cx="172.3" cy="379.4" r="1.4" fill="#4d83af"/>
<circle cx="188.8" cy="385.7" r="1.4" fill="#ea993f"/>
<circle cx="200.1" cy="387.4" r="1.4" fill="#e8db93"/>
<circle cx="111.9" cy="369.0" r="1.4" fill="#aac797"/>
<circle cx="123.2" cy="356.3" r="1.4" fill="#4d83af"/>
<circle cx="142.9" cy="389.7" r="1.4" fill="#cc484a"/>
<circle cx="140.0" cy="377.1" r="1.4" fill="#ea993f"/>
<circle cx="145.7" cy="386.3" r="1.4" fill="#cc484a"/>
<circle cx="151.3" cy="377.6" r="1.4" fill="#ea993f"/>
<circle cx="134.4" cy="390.5" r="1.4" fill="#ea993f"/>
<circle cx="126.0" cy="398.9" r="1.4" fill="#e8db93"/>
<circle cx="140.0" cy="380.3" r="1.4" fill="#aac797"/>
<circle cx="165.4" cy="404.1" r="1.4" fill="#cc484a"/>
<circle cx="140.0" cy="392.9" r="1.4" fill="#e8db93"/>
<circle cx="176.6" cy="393.2" r="1.4" fill="#ea993f"/>
<circle cx="151.3" cy="380.1" r="1.4" fill="#ea993f"/>
<circle cx="106.3" cy="384.7" r="1.4" fill="#ea993f"/>
<circle cx="134.4" cy="394.8" r="1.4" fill="#63488c"/>
<circle cx="142.9" cy="401.7" r="1.4" fill="#ea993f"/>
<circle cx="117.5" cy="424.1" r="1.4" fill="#eeaa9e"/>
<circle cx="171.0" cy="392.6" r="1.4" fill="#63488c"/>
<circle cx="156.9" cy="399.6" r="1.4" fill="#d0a872"/>
<circle cx="120.3" cy="394.1" r="1.4" fill="#cc484a"/>
<circle cx="123.2" cy="394.1" r="1.4" fill="#d0a872"/>
<circle cx="142.9" cy="391.3" r="1.4" fill="#4c8f4c"/>
<circle cx="123.2" cy="407.9" r="1.4" fill="#cc484a"/>
<circle cx="142.9" cy="373.4" r="1.4" fill="#eeaa9e"/>
<circle cx="151.3" cy="373.5" r="1.4" fill="#4c8f4c"/>
<circle cx="151.3" cy="423.7" r="1.4" fill="#ac8554"/>
<circle cx="148.5" cy="371.8" r="1.4" fill="#cc484a"/>
<circle cx="120.3" cy="411.3" r="1.4" fill="#aac797"/>
<circle cx="109.1" cy="398.2" r="1.4" fill="#aac797"/>
<circle cx="151.3" cy="354.1" r="1.4" fill="#ea993f"/>
<circle cx="145.7" cy="415.2" r="1.4" fill="#63488c"/>
<circle cx="154.1" cy="383.0" r="1.4" fill="#ac8554"/>
<circle cx="134.4" cy="383.6" r="1.4" fill="#4d83af"/>
<circle cx="131.6" cy="403.4" r="1.4" fill="#ea993f"/>
<circle cx="114.7" cy="369.1" r="1.4" fill="#d0a872"/>
<circle cx="151.3" cy="391.8" r="1.4" fill="#ea993f"/>
<circle cx="165.4" cy="405.2" r="1.4" fill="#ac8554"/>
<circle cx="123.2" cy="400.2" r="1.4" fill="#eeaa9e"/>
<circle cx="128.8" cy="404.6" r="1.4" fill="#4d83af"/>
<circle cx="131.6" cy="395.2" r="1.4" fill="#ac8554"/>
<circle cx="111.9" cy="364.5" r="1.4" fill="#63488c"/>
<circle cx="142.9" cy="383.0" r="1.4" fill="#4c8f4c"/>
<circle cx="126.0" cy="387.8" r="1.4" fill="#ac8554"/>
<circle cx="140.0" cy="382.8" r="1.4" fill="#63488c"/>
<circle cx="131.6" cy="397.0" r="1.4" fill="#63488c"/>
<circle cx="131.6" cy="413.1" r="1.4" fill="#eeaa9e"/>
<circle cx="173.8" cy="348.3" r="1.4" fill="#cc484a"/>
<circle cx="171.0" cy="384.4" r="1.4" fill="#63488c"/>
<circle cx="120.3" cy="394.2" r="1.4" fill="#63488c"/>
<circle cx="145.7" cy="386.3" r="1.4" fill="#e8db93"/>
<circle cx="120.3" cy="375.2" r="1.4" fill="#63488c"/>
<circle cx="148.5" cy="413.1" r="1.4" fill="#cc484a"/>
<circle cx="145.7" cy="352.6" r="1.4" fill="#63488c"/>
<circle cx="173.8" cy="405.8" r="1.4" fill="#63488c"/>
<circle cx="126.0" cy="364.2" r="1.4" fill="#aac797"/>
<circle cx="128.8" cy="416.1" r="1.4" fill="#4d83af"/>
<circle cx="134.4" cy="414.6" r="1.4" fill="#aac797"/>
<circle cx="173.8" cy="388.2" r="1.4" fill="#63488c"/>
<circle cx="120.3" cy="370.7" r="1.4" fill="#ea993f"/>
<circle cx="100.6" cy="397.5" r="1.4" fill="#63488c"/>
<circle cx="126.0" cy="372.3" r="1.4" fill="#e8db93"/>
<circle cx="106.3" cy="391.9" r="1.4" fill="#63488c"/>
<circle cx="120.3" cy="415.5" r="1.4" fill="#4c8f4c"/>
<circle cx="159.7" cy="384.2" r="1.4" fill="#ac8554"/>
<circle cx="162.6" cy="358.3" r="1.4" fill="#4c8f4c"/>
<circle cx="117.5" cy="397.9" r="1.4" fill="#63488c"/>
<circle cx="111.9" cy="389.2" r="1.4" fill="#ea993f"/>
<circle cx="145.7" cy="410.0" r="1.4" fill="#e8db93"/>
<circle cx="103.4" cy="396.4" r="1.4" fill="#4c8f4c"/>
<circle cx="126.0" cy="373.8" r="1.4" fill="#eeaa9e"/>
<circle cx="142.9" cy="366.1" r="1.4" fill="#4d83af"/>
<circle cx="154.1" cy="385.4" r="1.4" fill="#cc484a"/>
<circle cx="142.9" cy="363.9" r="1.4" fill="#4c8f4c"/>
<circle cx="151.3" cy="391.7" r="1.4" fill="#eeaa9e"/>
<circle cx="109.1" cy="402.5" r="1.4" fill="#ea993f"/>
<circle cx="140.0" cy="379.4" r="1.4" fill="#4c8f4c"/>
<circle cx="162.6" cy="397.9" r="1.4" fill="#ea993f"/>
<circle cx="162.6" cy="428.4" r="1.4" fill="#ea993f"/>
<circle cx="131.6" cy="403.5" r="1.4" fill="#ea993f"/>
<circle cx="117.5" cy="385.8" r="1.4" fill="#63488c"/>
<circle cx="114.7" cy="410.8" r="1.4" fill="#eeaa9e"/>
<circle cx="148.5" cy="422.5" r="1.4" fill="#63488c"/>
<circle cx="159.7" cy="392.1" r="1.4" fill="#d0a872"/>
<circle cx="165.4" cy="360.4" r="1.4" fill="#4c8f4c"/>
<circle cx="148.5" cy="375.1" r="1.4" fill="#ea993f"/>
<circle cx="120.3" cy="386.8" r="1.4" fill="#d0a872"/>
<circle cx="117.5" cy="386.9" r="1.4" fill="#eeaa9e"/>
<circle cx="131.6" cy="409.9" r="1.4" fill="#ea993f"/>
<circle cx="103.4" cy="409.8" r="1.4" fill="#4d83af"/>
<circle cx="114.7" cy="386.6" r="1.4" fill="#ea993f"/>
<circle cx="114.7" cy="377.4" r="1.4" fill="#ea993f"/>
<circle cx="168.2" cy="386.5" r="1.4" fill="#63488c"/>
<circle cx="151.3" cy="365.5" r="1.4" fill="#63488c"/>
<circle cx="159.7" cy="408.2" r="1.4" fill="#eeaa9e"/>
<circle cx="120.3" cy="387.6" r="1.4" fill="#ac8554"/>
<line x1="91.7" y1="425.0" x2="206.6" y2="412.4" stroke="#c8d0a8" stroke-width="0.9" opacity="0.85"/>
<line x1="123.0" y1="387.7" x2="186.0" y2="380.6" stroke="#c8d0a8" stroke-width="0.9" opacity="0.85"/>
<line x1="86.4" y1="393.1" x2="206.0" y2="384.8" stroke="#d4bc94" stroke-width="0.9" opacity="0.85"/>
<line x1="119.8" y1="424.4" x2="174.6" y2="419.9" stroke="#d4bc94" stroke-width="0.9" opacity="0.85"/>
<line x1="130.1" y1="353.7" x2="161.7" y2="350.9" stroke="#a8b4c8" stroke-width="0.9" opacity="0.85"/>
<line x1="119.3" y1="419.5" x2="213.3" y2="411.2" stroke="#c8d0a8" stroke-width="0.9" opacity="0.85"/>
<line x1="132.0" y1="383.3" x2="190.4" y2="378.9" stroke="#c8d0a8" stroke-width="0.9" opacity="0.85"/>
<line x1="132.6" y1="389.7" x2="211.0" y2="385.2" stroke="#d4bc94" stroke-width="0.9" opacity="0.85"/>
<line x1="94.3" y1="434.6" x2="214.6" y2="420.2" stroke="#c0a8b8" stroke-width="0.9" opacity="0.85"/>
<line x1="129.8" y1="397.3" x2="213.5" y2="392.9" stroke="#e0b0a0" stroke-width="0.9" opacity="0.85"/>
<line x1="126.5" y1="380.2" x2="196.9" y2="374.4" stroke="#c8d0a8" stroke-width="0.9" opacity="0.85"/>
<line x1="127.3" y1="406.9" x2="187.8" y2="399.2" stroke="#b8b8b8" stroke-width="0.9" opacity="0.85"/>
<line x1="122.2" y1="412.8" x2="182.2" y2="406.8" stroke="#c0a8b8" stroke-width="0.9" opacity="0.85"/>
<line x1="89.3" y1="366.0" x2="196.5" y2="353.4" stroke="#a8b4c8" stroke-width="0.9" opacity="0.85"/>
<line x1="103.5" y1="397.3" x2="200.3" y2="387.1" stroke="#a898b0" stroke-width="0.9" opacity="0.85"/>
<line x1="114.7" y1="368.3" x2="181.6" y2="362.3" stroke="#d4bc94" stroke-width="0.9" opacity="0.85"/>
<line x1="123.5" y1="431.1" x2="189.7" y2="423.7" stroke="#e0b0a0" stroke-width="0.9" opacity="0.85"/>
<line x1="102.2" y1="384.8" x2="206.6" y2="378.8" stroke="#e0b0a0" stroke-width="0.9" opacity="0.85"/>
<line x1="115.4" y1="387.1" x2="200.1" y2="381.9" stroke="#e0b0a0" stroke-width="0.9" opacity="0.85"/>
<line x1="125.5" y1="403.5" x2="188.5" y2="397.5" stroke="#d4bc94" stroke-width="0.9" opacity="0.85"/>
<line x1="109.1" y1="401.8" x2="180.1" y2="398.0" stroke="#a8b4c8" stroke-width="0.9" opacity="0.85"/>
<line x1="109.2" y1="384.2" x2="179.6" y2="378.1" stroke="#a898b0" stroke-width="0.9" opacity="0.85"/>
<line x1="124.3" y1="405.8" x2="178.2" y2="402.2" stroke="#e0a870" stroke-width="0.9" opacity="0.85"/>
<line x1="112.5" y1="360.7" x2="169.9" y2="355.8" stroke="#b0b0b0" stroke-width="0.9" opacity="0.85"/>
<line x1="86.6" y1="360.1" x2="211.9" y2="352.5" stroke="#c8d0a8" stroke-width="0.9" opacity="0.85"/>
<line x1="85.7" y1="379.5" x2="201.6" y2="365.4" stroke="#a898b0" stroke-width="0.9" opacity="0.85"/>
<line x1="94.2" y1="369.6" x2="176.0" y2="360.6" stroke="#e0a870" stroke-width="0.9" opacity="0.85"/>
<line x1="117.8" y1="379.4" x2="195.7" y2="373.6" stroke="#c8d0a8" stroke-width="0.9" opacity="0.85"/>
<line x1="108.7" y1="387.3" x2="161.3" y2="382.3" stroke="#b8b8b8" stroke-width="0.9" opacity="0.85"/>
<line x1="97.9" y1="417.7" x2="173.9" y2="413.7" stroke="#a898b0" stroke-width="0.9" opacity="0.85"/>
<line x1="106.6" y1="375.5" x2="213.7" y2="365.0" stroke="#d4bc94" stroke-width="0.9" opacity="0.85"/>
<line x1="120.9" y1="415.2" x2="168.8" y2="411.6" stroke="#e0b0a0" stroke-width="0.9" opacity="0.85"/>
<line x1="126.6" y1="410.0" x2="213.7" y2="403.5" stroke="#c8d0a8" stroke-width="0.9" opacity="0.85"/>
<line x1="96.2" y1="389.7" x2="195.7" y2="381.4" stroke="#c0a8b8" stroke-width="0.9" opacity="0.85"/>
<line x1="118.0" y1="420.3" x2="183.4" y2="412.4" stroke="#b8b8b8" stroke-width="0.9" opacity="0.85"/>
<line x1="128.8" y1="429.8" x2="176.9" y2="424.7" stroke="#b0b0b0" stroke-width="0.9" opacity="0.85"/>
<line x1="122.2" y1="376.6" x2="182.9" y2="368.8" stroke="#d4bc94" stroke-width="0.9" opacity="0.85"/>
<line x1="114.5" y1="433.7" x2="172.0" y2="428.4" stroke="#a898b0" stroke-width="0.9" opacity="0.85"/>
<line x1="110.4" y1="385.2" x2="180.8" y2="377.2" stroke="#a8b4c8" stroke-width="0.9" opacity="0.85"/>
<line x1="114.6" y1="438.0" x2="187.1" y2="430.8" stroke="#e0b0a0" stroke-width="0.9" opacity="0.85"/>
<line x1="104.7" y1="428.1" x2="209.2" y2="419.0" stroke="#a6c98a" stroke-width="0.9" opacity="0.4"/>
<line x1="119.6" y1="416.1" x2="183.3" y2="410.6" stroke="#c43040" stroke-width="0.9" opacity="0.4"/>
<line x1="91.5" y1="355.7" x2="191.2" y2="349.7" stroke="#e8902e" stroke-width="0.9" opacity="0.4"/>
<line x1="110.0" y1="386.4" x2="197.7" y2="380.6" stroke="#c43040" stroke-width="0.9" opacity="0.4"/>
<line x1="111.1" y1="357.5" x2="228.2" y2="343.2" stroke="#553882" stroke-width="0.9" opacity="0.4"/>
<line x1="110.2" y1="377.2" x2="224.5" y2="368.3" stroke="#553882" stroke-width="0.9" opacity="0.4"/>
<line x1="107.2" y1="391.4" x2="214.8" y2="383.6" stroke="#eda396" stroke-width="0.9" opacity="0.4"/>
<line x1="112.2" y1="394.0" x2="198.5" y2="389.7" stroke="#e8902e" stroke-width="0.9" opacity="0.4"/>
<line x1="114.2" y1="368.5" x2="192.1" y2="360.6" stroke="#e8902e" stroke-width="0.9" opacity="0.4"/>
<line x1="108.8" y1="357.7" x2="177.6" y2="350.7" stroke="#e8902e" stroke-width="0.9" opacity="0.4"/>
<line x1="123.4" y1="350.8" x2="229.3" y2="339.3" stroke="#e8902e" stroke-width="0.9" opacity="0.4"/>
<line x1="105.4" y1="386.7" x2="238.6" y2="370.8" stroke="#553882" stroke-width="0.9" opacity="0.4"/>
<line x1="116.8" y1="356.0" x2="188.9" y2="348.9" stroke="#cca066" stroke-width="0.9" opacity="0.4"/>
<line x1="116.0" y1="369.6" x2="178.3" y2="362.3" stroke="#e8902e" stroke-width="0.9" opacity="0.4"/>
<line x1="105.2" y1="408.4" x2="204.1" y2="397.5" stroke="#a6c98a" stroke-width="0.9" opacity="0.4"/>
<line x1="95.1" y1="360.8" x2="221.2" y2="351.5" stroke="#e8902e" stroke-width="0.9" opacity="0.4"/>
<line x1="102.6" y1="348.9" x2="239.3" y2="341.2" stroke="#3b80ad" stroke-width="0.9" opacity="0.4"/>
<line x1="124.9" y1="362.0" x2="171.4" y2="359.9" stroke="#e8902e" stroke-width="0.9" opacity="0.4"/>
<line x1="89.6" y1="388.2" x2="180.2" y2="376.9" stroke="#3c853c" stroke-width="0.9" opacity="0.4"/>
<line x1="118.7" y1="355.6" x2="197.0" y2="347.1" stroke="#553882" stroke-width="0.9" opacity="0.4"/>
<line x1="88.6" y1="404.0" x2="195.8" y2="391.7" stroke="#eda396" stroke-width="0.9" opacity="0.4"/>
<line x1="118.8" y1="380.1" x2="179.5" y2="375.5" stroke="#3b80ad" stroke-width="0.9" opacity="0.4"/>
<line x1="121.6" y1="372.0" x2="227.2" y2="360.4" stroke="#a6c98a" stroke-width="0.9" opacity="0.4"/>
<line x1="95.3" y1="425.4" x2="236.5" y2="414.6" stroke="#cca066" stroke-width="0.9" opacity="0.4"/>
<line x1="89.8" y1="393.1" x2="177.6" y2="384.0" stroke="#cca066" stroke-width="0.9" opacity="0.4"/>
<line x1="97.5" y1="402.3" x2="227.7" y2="389.1" stroke="#c43040" stroke-width="0.9" opacity="0.4"/>
<line x1="122.4" y1="360.8" x2="238.4" y2="350.7" stroke="#e8902e" stroke-width="0.9" opacity="0.4"/>
<line x1="98.4" y1="370.7" x2="234.2" y2="353.9" stroke="#3b80ad" stroke-width="0.9" opacity="0.4"/>
<line x1="103.2" y1="353.3" x2="187.4" y2="344.6" stroke="#a6c98a" stroke-width="0.9" opacity="0.4"/>
<line x1="109.2" y1="377.7" x2="179.2" y2="373.9" stroke="#3c853c" stroke-width="0.9" opacity="0.4"/>
<line x1="112.3" y1="400.7" x2="218.4" y2="388.6" stroke="#e8902e" stroke-width="0.9" opacity="0.4"/>
<line x1="122.2" y1="379.4" x2="203.2" y2="371.3" stroke="#e8902e" stroke-width="0.9" opacity="0.4"/>
<line x1="88.8" y1="390.2" x2="214.5" y2="381.8" stroke="#3c853c" stroke-width="0.9" opacity="0.4"/>
<line x1="93.1" y1="387.4" x2="175.1" y2="379.6" stroke="#e8902e" stroke-width="0.9" opacity="0.4"/>
<line x1="58.4" y1="347.0" x2="211.0" y2="328.4" stroke="#909090" stroke-width="0.9" opacity="0.85"/>
<line x1="92.6" y1="341.0" x2="163.0" y2="338.0" stroke="#a8a8a8" stroke-width="0.9" opacity="0.85"/>
<line x1="72.7" y1="390.0" x2="232.0" y2="375.5" stroke="#9a9a9a" stroke-width="0.9" opacity="0.85"/>
<line x1="81.4" y1="454.7" x2="110.0" y2="452.0" stroke="#d0b888" stroke-width="0.9" opacity="0.85"/>
<line x1="105.0" y1="452.4" x2="115.0" y2="451.7" stroke="#b0b0b0" stroke-width="0.9" opacity="0.85"/>
<line x1="126.2" y1="446.7" x2="175.0" y2="443.1" stroke="#d0b888" stroke-width="0.9" opacity="0.85"/>
<line x1="170.0" y1="396.1" x2="227.9" y2="391.5" stroke="#b090a8" stroke-width="0.9" opacity="0.85"/>
<line x1="170.0" y1="398.6" x2="247.5" y2="396.1" stroke="#a098b0" stroke-width="0.9" opacity="0.85"/>
<line x1="170.0" y1="408.9" x2="214.3" y2="406.3" stroke="#d4bc94" stroke-width="0.9" opacity="0.85"/>
<line x1="170.0" y1="409.7" x2="250.0" y2="402.9" stroke="#b0b0b0" stroke-width="0.9" opacity="0.85"/>
<line x1="170.0" y1="422.5" x2="202.4" y2="419.1" stroke="#b0b0b0" stroke-width="0.9" opacity="0.85"/>
<line x1="170.0" y1="428.4" x2="241.5" y2="422.1" stroke="#a8a8a8" stroke-width="0.9" opacity="0.85"/>
<line x1="180.0" y1="430.7" x2="202.4" y2="429.0" stroke="#5c9c5c" stroke-width="0.9" opacity="0.85"/>
<line x1="170.0" y1="443.8" x2="199.8" y2="441.2" stroke="#d0b888" stroke-width="0.9" opacity="0.85"/>
<line x1="205.0" y1="357.8" x2="222.6" y2="356.7" stroke="#b0b0b0" stroke-width="0.9" opacity="0.85"/>
<line x1="205.0" y1="363.0" x2="239.0" y2="359.0" stroke="#e0d8a0" stroke-width="0.9" opacity="0.85"/>
<line x1="205.0" y1="368.0" x2="253.3" y2="363.9" stroke="#a8a8a8" stroke-width="0.9" opacity="0.85"/>
<line x1="205.0" y1="372.6" x2="248.0" y2="369.2" stroke="#b0b0b0" stroke-width="0.9" opacity="0.85"/>
<line x1="205.0" y1="381.7" x2="236.2" y2="378.9" stroke="#b0b0b0" stroke-width="0.9" opacity="0.85"/>
<line x1="205.0" y1="384.3" x2="228.3" y2="382.5" stroke="#b0b0b0" stroke-width="0.9" opacity="0.85"/>
<line x1="93.0" y1="339.6" x2="146.0" y2="334.5" stroke="#a8a8a8" stroke-width="0.9" opacity="0.85"/>
<line x1="93.0" y1="343.3" x2="160.0" y2="337.5" stroke="#b0b0b0" stroke-width="0.9" opacity="0.85"/>
<line x1="103.6" y1="349.5" x2="165.0" y2="344.5" stroke="#b8b0c8" stroke-width="0.9" opacity="0.85"/>
<line x1="100.0" y1="352.0" x2="160.0" y2="347.0" stroke="#d4bc94" stroke-width="0.9" opacity="0.85"/></g>
<line x1="304.3" y1="278.75" x2="304.3" y2="487.0" stroke="#7a7a7a" stroke-width="0.9"/>
<line x1="300.90" y1="487.00" x2="304.3" y2="487.00" stroke="#7a7a7a" stroke-width="0.8"/>
<text x="0" y="0" transform="translate(296.30,487.00) rotate(-90) scale(0.88,1)" text-anchor="middle" font-size="6.4" fill="#4a4a4a" stroke="#4a4a4a" stroke-width="0.18">0</text>
<line x1="300.90" y1="457.25" x2="304.3" y2="457.25" stroke="#7a7a7a" stroke-width="0.8"/>
<text x="0" y="0" transform="translate(296.30,457.25) rotate(-90) scale(0.88,1)" text-anchor="middle" font-size="6.4" fill="#4a4a4a" stroke="#4a4a4a" stroke-width="0.18">5</text>
<line x1="300.90" y1="427.50" x2="304.3" y2="427.50" stroke="#7a7a7a" stroke-width="0.8"/>
<text x="0" y="0" transform="translate(296.30,427.50) rotate(-90) scale(0.88,1)" text-anchor="middle" font-size="6.4" fill="#4a4a4a" stroke="#4a4a4a" stroke-width="0.18">10</text>
<line x1="300.90" y1="397.75" x2="304.3" y2="397.75" stroke="#7a7a7a" stroke-width="0.8"/>
<text x="0" y="0" transform="translate(296.30,397.75) rotate(-90) scale(0.88,1)" text-anchor="middle" font-size="6.4" fill="#4a4a4a" stroke="#4a4a4a" stroke-width="0.18">15</text>
<line x1="300.90" y1="368.00" x2="304.3" y2="368.00" stroke="#7a7a7a" stroke-width="0.8"/>
<text x="0" y="0" transform="translate(296.30,368.00) rotate(-90) scale(0.88,1)" text-anchor="middle" font-size="6.4" fill="#4a4a4a" stroke="#4a4a4a" stroke-width="0.18">20</text>
<line x1="300.90" y1="338.25" x2="304.3" y2="338.25" stroke="#7a7a7a" stroke-width="0.8"/>
<text x="0" y="0" transform="translate(296.30,338.25) rotate(-90) scale(0.88,1)" text-anchor="middle" font-size="6.4" fill="#4a4a4a" stroke="#4a4a4a" stroke-width="0.18">25</text>
<line x1="300.90" y1="308.50" x2="304.3" y2="308.50" stroke="#7a7a7a" stroke-width="0.8"/>
<text x="0" y="0" transform="translate(296.30,308.50) rotate(-90) scale(0.88,1)" text-anchor="middle" font-size="6.4" fill="#4a4a4a" stroke="#4a4a4a" stroke-width="0.18">30</text>
<line x1="300.90" y1="278.75" x2="304.3" y2="278.75" stroke="#7a7a7a" stroke-width="0.8"/>
<text x="0" y="0" transform="translate(296.30,278.75) rotate(-90) scale(0.88,1)" text-anchor="middle" font-size="6.4" fill="#4a4a4a" stroke="#4a4a4a" stroke-width="0.18">35</text>
<line x1="314.0" y1="495.6" x2="543.20" y2="495.6" stroke="#7a7a7a" stroke-width="0.9"/>
<line x1="314.00" y1="495.6" x2="314.00" y2="498.80" stroke="#7a7a7a" stroke-width="0.8"/>
<text x="0" y="0" transform="translate(314.00,508.60) scale(0.88,1)" text-anchor="middle" font-size="6.4" fill="#4a4a4a" stroke="#4a4a4a" stroke-width="0.18">0</text>
<line x1="371.30" y1="495.6" x2="371.30" y2="498.80" stroke="#7a7a7a" stroke-width="0.8"/>
<text x="0" y="0" transform="translate(371.30,508.60) scale(0.88,1)" text-anchor="middle" font-size="6.4" fill="#4a4a4a" stroke="#4a4a4a" stroke-width="0.18">2</text>
<line x1="428.60" y1="495.6" x2="428.60" y2="498.80" stroke="#7a7a7a" stroke-width="0.8"/>
<text x="0" y="0" transform="translate(428.60,508.60) scale(0.88,1)" text-anchor="middle" font-size="6.4" fill="#4a4a4a" stroke="#4a4a4a" stroke-width="0.18">4</text>
<line x1="485.90" y1="495.6" x2="485.90" y2="498.80" stroke="#7a7a7a" stroke-width="0.8"/>
<text x="0" y="0" transform="translate(485.90,508.60) scale(0.88,1)" text-anchor="middle" font-size="6.4" fill="#4a4a4a" stroke="#4a4a4a" stroke-width="0.18">6</text>
<line x1="543.20" y1="495.6" x2="543.20" y2="498.80" stroke="#7a7a7a" stroke-width="0.8"/>
<text x="0" y="0" transform="translate(543.20,508.60) scale(0.88,1)" text-anchor="middle" font-size="6.4" fill="#4a4a4a" stroke="#4a4a4a" stroke-width="0.18">8</text>
<text x="0" y="0" transform="translate(284.70,384.30) rotate(-90)" text-anchor="middle" font-size="6.6" font-weight="bold" fill="#1a1a1a">Driving pressure (cmH<tspan font-size="5" dy="1.5">2</tspan><tspan dy="-1.5">O)</tspan></text>
<text x="429.0" y="522.0" text-anchor="middle" font-size="7.25" font-weight="bold" fill="#1a1a1a">PVPI</text>
<text x="288.2" y="519.3" font-size="14.6" font-weight="bold" fill="#000">D</text>
<g filter="url(#bl)"><circle cx="357.0" cy="284.7" r="1.4" fill="#d7b588"/>
<circle cx="411.5" cy="302.6" r="1.4" fill="#eda85c"/>
<circle cx="374.5" cy="308.5" r="1.4" fill="#d7b588"/>
<circle cx="408.9" cy="308.5" r="1.4" fill="#eda85c"/>
<circle cx="357.0" cy="320.4" r="1.4" fill="#d7b588"/>
<circle cx="411.5" cy="320.4" r="1.4" fill="#eda85c"/>
<circle cx="374.5" cy="323.4" r="1.4" fill="#eda85c"/>
<circle cx="377.1" cy="326.4" r="1.4" fill="#7a649e"/>
<circle cx="402.9" cy="326.4" r="1.4" fill="#7a649e"/>
<circle cx="405.9" cy="326.4" r="1.4" fill="#eda85c"/>
<circle cx="365.5" cy="332.3" r="1.4" fill="#d7b588"/>
<circle cx="402.9" cy="332.3" r="1.4" fill="#eda85c"/>
<circle cx="411.5" cy="332.3" r="1.4" fill="#7a649e"/>
<circle cx="414.2" cy="332.3" r="1.4" fill="#eda85c"/>
<circle cx="383.2" cy="338.2" r="1.4" fill="#eda85c"/>
<circle cx="402.9" cy="338.2" r="1.4" fill="#eda85c"/>
<circle cx="414.2" cy="338.2" r="1.4" fill="#7a649e"/>
<circle cx="380.2" cy="344.2" r="1.4" fill="#d7b588"/>
<circle cx="408.9" cy="344.2" r="1.4" fill="#6896bb"/>
<circle cx="377.1" cy="350.1" r="1.4" fill="#b9976e"/>
<circle cx="385.5" cy="350.1" r="1.4" fill="#d46465"/>
<circle cx="397.3" cy="350.1" r="1.4" fill="#d46465"/>
<circle cx="405.9" cy="350.1" r="1.4" fill="#b7cfa7"/>
<circle cx="408.9" cy="350.1" r="1.4" fill="#eda85c"/>
<circle cx="411.5" cy="350.1" r="1.4" fill="#eda85c"/>
<circle cx="417.6" cy="350.1" r="1.4" fill="#d7b588"/>
<circle cx="432.0" cy="314.4" r="1.4" fill="#eda85c"/>
<circle cx="457.7" cy="314.4" r="1.4" fill="#eda85c"/>
<circle cx="449.1" cy="320.4" r="1.4" fill="#eda85c"/>
<circle cx="469.2" cy="326.4" r="1.4" fill="#eda85c"/>
<circle cx="440.5" cy="344.2" r="1.4" fill="#eda85c"/>
<circle cx="457.7" cy="344.2" r="1.4" fill="#67a067"/>
<circle cx="463.2" cy="344.2" r="1.4" fill="#eda85c"/>
<circle cx="477.9" cy="344.2" r="1.4" fill="#67a067"/>
<circle cx="425.9" cy="350.1" r="1.4" fill="#eda85c"/>
<circle cx="428.9" cy="350.1" r="1.4" fill="#7a649e"/>
<circle cx="434.4" cy="350.1" r="1.4" fill="#eda85c"/>
<circle cx="452.1" cy="350.1" r="1.4" fill="#eda85c"/>
<circle cx="469.2" cy="350.1" r="1.4" fill="#eda85c"/>
<circle cx="376.9" cy="356.1" r="1.4" fill="#67a067"/>
<circle cx="394.3" cy="356.1" r="1.4" fill="#d46465"/>
<circle cx="397.4" cy="356.1" r="1.4" fill="#eda85c"/>
<circle cx="383.0" cy="362.1" r="1.4" fill="#d7b588"/>
<circle cx="376.9" cy="368.0" r="1.4" fill="#b7cfa7"/>
<circle cx="385.5" cy="368.0" r="1.4" fill="#7a649e"/>
<circle cx="370.7" cy="373.9" r="1.4" fill="#eda85c"/>
<circle cx="374.1" cy="373.9" r="1.4" fill="#eda85c"/>
<circle cx="383.0" cy="373.9" r="1.4" fill="#b9976e"/>
<circle cx="386.0" cy="373.9" r="1.4" fill="#b7cfa7"/>
<circle cx="388.9" cy="373.9" r="1.4" fill="#7a649e"/>
<circle cx="399.7" cy="373.9" r="1.4" fill="#d46465"/>
<circle cx="368.2" cy="379.9" r="1.4" fill="#b7cfa7"/>
<circle cx="370.9" cy="379.9" r="1.4" fill="#b9976e"/>
<circle cx="374.1" cy="379.9" r="1.4" fill="#b7cfa7"/>
<circle cx="380.0" cy="379.9" r="1.4" fill="#b7cfa7"/>
<circle cx="385.5" cy="379.9" r="1.4" fill="#d46465"/>
<circle cx="388.9" cy="379.9" r="1.4" fill="#b7cfa7"/>
<circle cx="391.7" cy="379.9" r="1.4" fill="#eda85c"/>
<circle cx="394.5" cy="379.9" r="1.4" fill="#eda85c"/>
<circle cx="397.4" cy="379.9" r="1.4" fill="#eda85c"/>
<circle cx="348.2" cy="385.9" r="1.4" fill="#67a067"/>
<circle cx="374.1" cy="385.9" r="1.4" fill="#ece1a4"/>
<circle cx="380.0" cy="385.9" r="1.4" fill="#7a649e"/>
<circle cx="385.5" cy="385.9" r="1.4" fill="#eda85c"/>
<circle cx="388.9" cy="385.9" r="1.4" fill="#6896bb"/>
<circle cx="391.7" cy="385.9" r="1.4" fill="#eda85c"/>
<circle cx="394.5" cy="385.9" r="1.4" fill="#eda85c"/>
<circle cx="399.1" cy="385.9" r="1.4" fill="#7a649e"/>
<circle cx="374.1" cy="391.8" r="1.4" fill="#eda85c"/>
<circle cx="386.0" cy="391.8" r="1.4" fill="#b9976e"/>
<circle cx="388.9" cy="391.8" r="1.4" fill="#eda85c"/>
<circle cx="397.4" cy="391.8" r="1.4" fill="#ece1a4"/>
<circle cx="370.9" cy="397.8" r="1.4" fill="#eda85c"/>
<circle cx="374.1" cy="397.8" r="1.4" fill="#67a067"/>
<circle cx="380.0" cy="397.8" r="1.4" fill="#b9976e"/>
<circle cx="385.5" cy="397.8" r="1.4" fill="#eda85c"/>
<circle cx="388.9" cy="397.8" r="1.4" fill="#eda85c"/>
<circle cx="394.5" cy="397.8" r="1.4" fill="#eda85c"/>
<circle cx="362.2" cy="403.7" r="1.4" fill="#67a067"/>
<circle cx="368.4" cy="403.7" r="1.4" fill="#67a067"/>
<circle cx="376.9" cy="403.7" r="1.4" fill="#b7cfa7"/>
<circle cx="380.0" cy="403.7" r="1.4" fill="#b7cfa7"/>
<circle cx="383.0" cy="403.7" r="1.4" fill="#d46465"/>
<circle cx="385.5" cy="403.7" r="1.4" fill="#7a649e"/>
<circle cx="388.9" cy="403.7" r="1.4" fill="#7a649e"/>
<circle cx="391.7" cy="403.7" r="1.4" fill="#6896bb"/>
<circle cx="394.5" cy="403.7" r="1.4" fill="#7a649e"/>
<circle cx="406.4" cy="350.1" r="1.4" fill="#b7cfa7"/>
<circle cx="426.6" cy="350.1" r="1.4" fill="#eda85c"/>
<circle cx="429.1" cy="350.1" r="1.4" fill="#7a649e"/>
<circle cx="434.8" cy="350.1" r="1.4" fill="#eda85c"/>
<circle cx="451.8" cy="350.1" r="1.4" fill="#eda85c"/>
<circle cx="403.2" cy="356.1" r="1.4" fill="#d46465"/>
<circle cx="408.9" cy="356.1" r="1.4" fill="#eda85c"/>
<circle cx="411.8" cy="356.1" r="1.4" fill="#eda85c"/>
<circle cx="414.5" cy="356.1" r="1.4" fill="#6896bb"/>
<circle cx="423.2" cy="356.1" r="1.4" fill="#7a649e"/>
<circle cx="440.5" cy="356.1" r="1.4" fill="#b7cfa7"/>
<circle cx="443.6" cy="356.1" r="1.4" fill="#b7cfa7"/>
<circle cx="454.7" cy="356.1" r="1.4" fill="#d46465"/>
<circle cx="403.2" cy="362.1" r="1.4" fill="#6896bb"/>
<circle cx="411.8" cy="362.1" r="1.4" fill="#ece1a4"/>
<circle cx="431.6" cy="362.1" r="1.4" fill="#d7b588"/>
<circle cx="411.8" cy="365.0" r="1.4" fill="#d46465"/>
<circle cx="403.2" cy="368.0" r="1.4" fill="#6896bb"/>
<circle cx="406.1" cy="368.0" r="1.4" fill="#b7cfa7"/>
<circle cx="408.9" cy="368.0" r="1.4" fill="#eda85c"/>
<circle cx="414.5" cy="368.0" r="1.4" fill="#d46465"/>
<circle cx="417.5" cy="368.0" r="1.4" fill="#b7cfa7"/>
<circle cx="423.2" cy="368.0" r="1.4" fill="#d46465"/>
<circle cx="429.1" cy="368.0" r="1.4" fill="#d46465"/>
<circle cx="449.3" cy="368.0" r="1.4" fill="#eda85c"/>
<circle cx="400.1" cy="373.9" r="1.4" fill="#d46465"/>
<circle cx="406.1" cy="373.9" r="1.4" fill="#eda85c"/>
<circle cx="411.8" cy="373.9" r="1.4" fill="#eda85c"/>
<circle cx="414.5" cy="373.9" r="1.4" fill="#eda85c"/>
<circle cx="417.5" cy="373.9" r="1.4" fill="#6896bb"/>
<circle cx="426.3" cy="373.9" r="1.4" fill="#b9976e"/>
<circle cx="437.6" cy="373.9" r="1.4" fill="#eda85c"/>
<circle cx="443.6" cy="373.9" r="1.4" fill="#b7cfa7"/>
<circle cx="446.7" cy="373.9" r="1.4" fill="#7a649e"/>
<circle cx="449.3" cy="373.9" r="1.4" fill="#eda85c"/>
<circle cx="400.1" cy="379.9" r="1.4" fill="#7a649e"/>
<circle cx="408.9" cy="379.9" r="1.4" fill="#d46465"/>
<circle cx="411.8" cy="379.9" r="1.4" fill="#eda85c"/>
<circle cx="414.5" cy="379.9" r="1.4" fill="#eda85c"/>
<circle cx="417.5" cy="379.9" r="1.4" fill="#b7cfa7"/>
<circle cx="423.2" cy="379.9" r="1.4" fill="#7a649e"/>
<circle cx="437.6" cy="379.9" r="1.4" fill="#ece1a4"/>
<circle cx="440.5" cy="379.9" r="1.4" fill="#eda85c"/>
<circle cx="443.6" cy="379.9" r="1.4" fill="#eda85c"/>
<circle cx="446.7" cy="379.9" r="1.4" fill="#b7cfa7"/>
<circle cx="400.1" cy="385.9" r="1.4" fill="#7a649e"/>
<circle cx="403.2" cy="385.9" r="1.4" fill="#6896bb"/>
<circle cx="406.1" cy="385.9" r="1.4" fill="#eda85c"/>
<circle cx="411.8" cy="385.9" r="1.4" fill="#7a649e"/>
<circle cx="417.5" cy="385.9" r="1.4" fill="#d46465"/>
<circle cx="420.6" cy="385.9" r="1.4" fill="#7a649e"/>
<circle cx="423.2" cy="385.9" r="1.4" fill="#7a649e"/>
<circle cx="426.3" cy="385.9" r="1.4" fill="#eda85c"/>
<circle cx="429.1" cy="385.9" r="1.4" fill="#d46465"/>
<circle cx="431.9" cy="385.9" r="1.4" fill="#eda85c"/>
<circle cx="440.5" cy="385.9" r="1.4" fill="#67a067"/>
<circle cx="446.1" cy="385.9" r="1.4" fill="#eda85c"/>
<circle cx="449.5" cy="385.9" r="1.4" fill="#eda85c"/>
<circle cx="454.1" cy="385.9" r="1.4" fill="#d46465"/>
<circle cx="400.1" cy="391.8" r="1.4" fill="#ece1a4"/>
<circle cx="403.2" cy="391.8" r="1.4" fill="#eda85c"/>
<circle cx="406.1" cy="391.8" r="1.4" fill="#d46465"/>
<circle cx="408.9" cy="391.8" r="1.4" fill="#eda85c"/>
<circle cx="411.8" cy="391.8" r="1.4" fill="#d7b588"/>
<circle cx="414.5" cy="391.8" r="1.4" fill="#d46465"/>
<circle cx="417.5" cy="391.8" r="1.4" fill="#7a649e"/>
<circle cx="420.6" cy="391.8" r="1.4" fill="#ece1a4"/>
<circle cx="426.3" cy="391.8" r="1.4" fill="#d46465"/>
<circle cx="429.1" cy="391.8" r="1.4" fill="#eda85c"/>
<circle cx="431.9" cy="391.8" r="1.4" fill="#eda85c"/>
<circle cx="434.8" cy="391.8" r="1.4" fill="#eda85c"/>
<circle cx="440.5" cy="391.8" r="1.4" fill="#7a649e"/>
<circle cx="443.6" cy="391.8" r="1.4" fill="#eda85c"/>
<circle cx="449.3" cy="391.8" r="1.4" fill="#d7b588"/>
<circle cx="397.3" cy="397.8" r="1.4" fill="#eda85c"/>
<circle cx="400.1" cy="397.8" r="1.4" fill="#d7b588"/>
<circle cx="403.2" cy="397.8" r="1.4" fill="#eda85c"/>
<circle cx="406.1" cy="397.8" r="1.4" fill="#eda85c"/>
<circle cx="408.9" cy="397.8" r="1.4" fill="#7a649e"/>
<circle cx="411.8" cy="397.8" r="1.4" fill="#eda85c"/>
<circle cx="414.5" cy="397.8" r="1.4" fill="#eda85c"/>
<circle cx="417.5" cy="397.8" r="1.4" fill="#d46465"/>
<circle cx="423.2" cy="397.8" r="1.4" fill="#d46465"/>
<circle cx="426.3" cy="397.8" r="1.4" fill="#7a649e"/>
<circle cx="429.1" cy="397.8" r="1.4" fill="#eda85c"/>
<circle cx="434.8" cy="397.8" r="1.4" fill="#eda85c"/>
<circle cx="437.6" cy="397.8" r="1.4" fill="#eda85c"/>
<circle cx="443.6" cy="397.8" r="1.4" fill="#67a067"/>
<circle cx="446.7" cy="397.8" r="1.4" fill="#eda85c"/>
<circle cx="449.3" cy="397.8" r="1.4" fill="#b7cfa7"/>
<circle cx="452.4" cy="397.8" r="1.4" fill="#eda85c"/>
<circle cx="397.3" cy="403.7" r="1.4" fill="#7a649e"/>
<circle cx="400.1" cy="403.7" r="1.4" fill="#6896bb"/>
<circle cx="403.2" cy="403.7" r="1.4" fill="#eda85c"/>
<circle cx="406.1" cy="403.7" r="1.4" fill="#eda85c"/>
<circle cx="408.9" cy="403.7" r="1.4" fill="#d7b588"/>
<circle cx="411.8" cy="403.7" r="1.4" fill="#eda85c"/>
<circle cx="414.5" cy="403.7" r="1.4" fill="#7a649e"/>
<circle cx="417.5" cy="403.7" r="1.4" fill="#eda85c"/>
<circle cx="420.6" cy="403.7" r="1.4" fill="#eda85c"/>
<circle cx="423.2" cy="403.7" r="1.4" fill="#eda85c"/>
<circle cx="426.3" cy="403.7" r="1.4" fill="#7a649e"/>
<circle cx="429.1" cy="403.7" r="1.4" fill="#6896bb"/>
<circle cx="431.9" cy="403.7" r="1.4" fill="#eda85c"/>
<circle cx="434.8" cy="403.7" r="1.4" fill="#eda85c"/>
<circle cx="437.6" cy="403.7" r="1.4" fill="#6896bb"/>
<circle cx="440.5" cy="403.7" r="1.4" fill="#7a649e"/>
<circle cx="443.6" cy="403.7" r="1.4" fill="#6896bb"/>
<circle cx="446.7" cy="403.7" r="1.4" fill="#6896bb"/>
<circle cx="449.3" cy="403.7" r="1.4" fill="#7a649e"/>
<circle cx="452.4" cy="403.7" r="1.4" fill="#7a649e"/>
<circle cx="454.8" cy="356.1" r="1.4" fill="#eda85c"/>
<circle cx="460.7" cy="356.1" r="1.4" fill="#b7cfa7"/>
<circle cx="463.5" cy="356.1" r="1.4" fill="#7a649e"/>
<circle cx="480.7" cy="356.1" r="1.4" fill="#67a067"/>
<circle cx="475.0" cy="362.1" r="1.4" fill="#b7cfa7"/>
<circle cx="478.0" cy="362.1" r="1.4" fill="#eda85c"/>
<circle cx="498.0" cy="362.1" r="1.4" fill="#eda85c"/>
<circle cx="469.3" cy="368.0" r="1.4" fill="#6896bb"/>
<circle cx="486.6" cy="368.0" r="1.4" fill="#eda85c"/>
<circle cx="454.8" cy="373.9" r="1.4" fill="#f1b7ad"/>
<circle cx="469.3" cy="373.9" r="1.4" fill="#b7cfa7"/>
<circle cx="478.0" cy="373.9" r="1.4" fill="#7a649e"/>
<circle cx="529.8" cy="373.9" r="1.4" fill="#b7cfa7"/>
<circle cx="469.3" cy="379.9" r="1.4" fill="#6896bb"/>
<circle cx="472.1" cy="379.9" r="1.4" fill="#b7cfa7"/>
<circle cx="489.4" cy="379.9" r="1.4" fill="#b7cfa7"/>
<circle cx="457.8" cy="379.9" r="1.4" fill="#ece1a4"/>
<circle cx="460.7" cy="385.9" r="1.4" fill="#d46465"/>
<circle cx="466.4" cy="385.9" r="1.4" fill="#7a649e"/>
<circle cx="475.0" cy="385.9" r="1.4" fill="#eda85c"/>
<circle cx="483.7" cy="385.9" r="1.4" fill="#f1b7ad"/>
<circle cx="451.7" cy="391.8" r="1.4" fill="#d7b588"/>
<circle cx="454.8" cy="391.8" r="1.4" fill="#f1b7ad"/>
<circle cx="457.8" cy="391.8" r="1.4" fill="#eda85c"/>
<circle cx="460.7" cy="391.8" r="1.4" fill="#b7cfa7"/>
<circle cx="475.0" cy="391.8" r="1.4" fill="#d46465"/>
<circle cx="495.3" cy="391.8" r="1.4" fill="#7a649e"/>
<circle cx="501.0" cy="391.8" r="1.4" fill="#b7cfa7"/>
<circle cx="526.9" cy="391.8" r="1.4" fill="#7a649e"/>
<circle cx="454.8" cy="397.8" r="1.4" fill="#6896bb"/>
<circle cx="460.7" cy="397.8" r="1.4" fill="#d46465"/>
<circle cx="463.5" cy="397.8" r="1.4" fill="#7a649e"/>
<circle cx="466.4" cy="397.8" r="1.4" fill="#f1b7ad"/>
<circle cx="475.0" cy="397.8" r="1.4" fill="#d46465"/>
<circle cx="501.0" cy="397.8" r="1.4" fill="#f1b7ad"/>
<circle cx="512.5" cy="397.8" r="1.4" fill="#b7cfa7"/>
<circle cx="521.2" cy="397.8" r="1.4" fill="#b7cfa7"/>
<circle cx="457.8" cy="403.7" r="1.4" fill="#eda85c"/>
<circle cx="460.7" cy="403.7" r="1.4" fill="#f1b7ad"/>
<circle cx="466.4" cy="403.7" r="1.4" fill="#f1b7ad"/>
<circle cx="469.3" cy="403.7" r="1.4" fill="#eda85c"/>
<circle cx="472.1" cy="403.7" r="1.4" fill="#d7b588"/>
<circle cx="486.6" cy="403.7" r="1.4" fill="#7a649e"/>
<circle cx="518.2" cy="403.7" r="1.4" fill="#ece1a4"/>
<circle cx="458.0" cy="403.7" r="1.4" fill="#eda85c"/>
<circle cx="492.3" cy="409.6" r="1.4" fill="#d46465"/>
<circle cx="506.6" cy="409.6" r="1.4" fill="#d46465"/>
<circle cx="521.2" cy="409.6" r="1.4" fill="#67a067"/>
<circle cx="481.0" cy="409.6" r="1.4" fill="#7a649e"/>
<circle cx="483.7" cy="409.6" r="1.4" fill="#b9976e"/>
<circle cx="518.2" cy="409.6" r="1.4" fill="#6896bb"/>
<circle cx="481.0" cy="415.6" r="1.4" fill="#f1b7ad"/>
<circle cx="486.4" cy="415.6" r="1.4" fill="#eda85c"/>
<circle cx="492.3" cy="415.6" r="1.4" fill="#7a649e"/>
<circle cx="506.5" cy="415.6" r="1.4" fill="#d46465"/>
<circle cx="532.7" cy="415.6" r="1.4" fill="#67a067"/>
<circle cx="483.7" cy="421.6" r="1.4" fill="#d7b588"/>
<circle cx="486.4" cy="421.6" r="1.4" fill="#67a067"/>
<circle cx="492.3" cy="421.6" r="1.4" fill="#d46465"/>
<circle cx="498.2" cy="421.6" r="1.4" fill="#ece1a4"/>
<circle cx="515.5" cy="421.6" r="1.4" fill="#b9976e"/>
<circle cx="532.7" cy="421.6" r="1.4" fill="#67a067"/>
<circle cx="481.0" cy="427.5" r="1.4" fill="#eda85c"/>
<circle cx="483.7" cy="427.5" r="1.4" fill="#d46465"/>
<circle cx="501.2" cy="427.5" r="1.4" fill="#6896bb"/>
<circle cx="504.0" cy="429.9" r="1.4" fill="#d7b588"/>
<circle cx="527.0" cy="427.5" r="1.4" fill="#6896bb"/>
<circle cx="489.6" cy="433.4" r="1.4" fill="#6896bb"/>
<circle cx="509.3" cy="439.4" r="1.4" fill="#6896bb"/>
<circle cx="362.6" cy="409.6" r="1.4" fill="#67a067"/>
<circle cx="365.5" cy="409.6" r="1.4" fill="#b7cfa7"/>
<circle cx="368.5" cy="409.6" r="1.4" fill="#eda85c"/>
<circle cx="374.3" cy="409.6" r="1.4" fill="#eda85c"/>
<circle cx="380.1" cy="409.6" r="1.4" fill="#7a649e"/>
<circle cx="383.0" cy="409.6" r="1.4" fill="#eda85c"/>
<circle cx="385.9" cy="409.6" r="1.4" fill="#eda85c"/>
<circle cx="388.8" cy="409.6" r="1.4" fill="#eda85c"/>
<circle cx="391.7" cy="409.6" r="1.4" fill="#eda85c"/>
<circle cx="394.6" cy="409.6" r="1.4" fill="#eda85c"/>
<circle cx="397.5" cy="409.6" r="1.4" fill="#eda85c"/>
<circle cx="400.5" cy="409.6" r="1.4" fill="#d7b588"/>
<circle cx="403.4" cy="409.6" r="1.4" fill="#eda85c"/>
<circle cx="406.3" cy="409.6" r="1.4" fill="#eda85c"/>
<circle cx="409.2" cy="409.6" r="1.4" fill="#eda85c"/>
<circle cx="455.1" cy="409.6" r="1.4" fill="#eda85c"/>
<circle cx="462.4" cy="409.6" r="1.4" fill="#d7b588"/>
<circle cx="335.0" cy="415.6" r="1.4" fill="#7a649e"/>
<circle cx="359.7" cy="415.6" r="1.4" fill="#eda85c"/>
<circle cx="362.6" cy="415.6" r="1.4" fill="#eda85c"/>
<circle cx="365.5" cy="415.6" r="1.4" fill="#eda85c"/>
<circle cx="368.5" cy="415.6" r="1.4" fill="#7a649e"/>
<circle cx="371.4" cy="415.6" r="1.4" fill="#b7cfa7"/>
<circle cx="374.3" cy="415.6" r="1.4" fill="#67a067"/>
<circle cx="377.2" cy="415.6" r="1.4" fill="#7a649e"/>
<circle cx="380.1" cy="415.6" r="1.4" fill="#7a649e"/>
<circle cx="383.0" cy="415.6" r="1.4" fill="#eda85c"/>
<circle cx="385.9" cy="415.6" r="1.4" fill="#b7cfa7"/>
<circle cx="388.8" cy="415.6" r="1.4" fill="#eda85c"/>
<circle cx="391.7" cy="415.6" r="1.4" fill="#eda85c"/>
<circle cx="394.6" cy="415.6" r="1.4" fill="#eda85c"/>
<circle cx="397.5" cy="415.6" r="1.4" fill="#f1b7ad"/>
<circle cx="400.5" cy="415.6" r="1.4" fill="#eda85c"/>
<circle cx="403.4" cy="415.6" r="1.4" fill="#eda85c"/>
<circle cx="406.3" cy="415.6" r="1.4" fill="#eda85c"/>
<circle cx="409.2" cy="415.6" r="1.4" fill="#7a649e"/>
<circle cx="365.5" cy="421.6" r="1.4" fill="#7a649e"/>
<circle cx="371.4" cy="421.6" r="1.4" fill="#67a067"/>
<circle cx="374.3" cy="421.6" r="1.4" fill="#67a067"/>
<circle cx="377.2" cy="421.6" r="1.4" fill="#d46465"/>
<circle cx="380.1" cy="421.6" r="1.4" fill="#eda85c"/>
<circle cx="383.0" cy="421.6" r="1.4" fill="#f1b7ad"/>
<circle cx="388.8" cy="421.6" r="1.4" fill="#eda85c"/>
<circle cx="394.6" cy="421.6" r="1.4" fill="#ece1a4"/>
<circle cx="397.5" cy="421.6" r="1.4" fill="#7a649e"/>
<circle cx="400.5" cy="421.6" r="1.4" fill="#67a067"/>
<circle cx="403.4" cy="421.6" r="1.4" fill="#eda85c"/>
<circle cx="406.3" cy="421.6" r="1.4" fill="#eda85c"/>
<circle cx="411.5" cy="421.6" r="1.4" fill="#7a649e"/>
<circle cx="414.4" cy="421.6" r="1.4" fill="#7a649e"/>
<circle cx="417.3" cy="421.6" r="1.4" fill="#b7cfa7"/>
<circle cx="420.2" cy="421.6" r="1.4" fill="#d46465"/>
<circle cx="423.1" cy="421.6" r="1.4" fill="#67a067"/>
<circle cx="431.8" cy="421.6" r="1.4" fill="#6896bb"/>
<circle cx="434.7" cy="421.6" r="1.4" fill="#7a649e"/>
<circle cx="437.6" cy="421.6" r="1.4" fill="#7a649e"/>
<circle cx="446.4" cy="421.6" r="1.4" fill="#f1b7ad"/>
<circle cx="455.1" cy="421.6" r="1.4" fill="#b7cfa7"/>
<circle cx="458.0" cy="421.6" r="1.4" fill="#f1b7ad"/>
<circle cx="460.9" cy="421.6" r="1.4" fill="#f1b7ad"/>
<circle cx="468.9" cy="421.6" r="1.4" fill="#6896bb"/>
<circle cx="477.6" cy="421.6" r="1.4" fill="#d46465"/>
<circle cx="353.9" cy="427.5" r="1.4" fill="#ece1a4"/>
<circle cx="368.5" cy="427.5" r="1.4" fill="#67a067"/>
<circle cx="371.4" cy="427.5" r="1.4" fill="#7a649e"/>
<circle cx="374.3" cy="427.5" r="1.4" fill="#7a649e"/>
<circle cx="380.1" cy="427.5" r="1.4" fill="#f1b7ad"/>
<circle cx="383.0" cy="427.5" r="1.4" fill="#f1b7ad"/>
<circle cx="385.9" cy="427.5" r="1.4" fill="#eda85c"/>
<circle cx="388.8" cy="427.5" r="1.4" fill="#eda85c"/>
<circle cx="394.6" cy="427.5" r="1.4" fill="#7a649e"/>
<circle cx="397.5" cy="427.5" r="1.4" fill="#7a649e"/>
<circle cx="400.5" cy="427.5" r="1.4" fill="#d7b588"/>
<circle cx="403.4" cy="427.5" r="1.4" fill="#d46465"/>
<circle cx="406.3" cy="427.5" r="1.4" fill="#eda85c"/>
<circle cx="409.2" cy="427.5" r="1.4" fill="#d46465"/>
<circle cx="412.1" cy="427.5" r="1.4" fill="#7a649e"/>
<circle cx="414.4" cy="427.5" r="1.4" fill="#7a649e"/>
<circle cx="417.3" cy="427.5" r="1.4" fill="#7a649e"/>
<circle cx="420.2" cy="427.5" r="1.4" fill="#d46465"/>
<circle cx="423.1" cy="427.5" r="1.4" fill="#d46465"/>
<circle cx="428.9" cy="427.5" r="1.4" fill="#7a649e"/>
<circle cx="434.7" cy="427.5" r="1.4" fill="#f1b7ad"/>
<circle cx="440.5" cy="427.5" r="1.4" fill="#67a067"/>
<circle cx="443.5" cy="427.5" r="1.4" fill="#d46465"/>
<circle cx="452.2" cy="427.5" r="1.4" fill="#6896bb"/>
<circle cx="463.5" cy="427.5" r="1.4" fill="#d46465"/>
<circle cx="377.2" cy="433.4" r="1.4" fill="#67a067"/>
<circle cx="383.0" cy="433.4" r="1.4" fill="#b7cfa7"/>
<circle cx="385.9" cy="433.4" r="1.4" fill="#67a067"/>
<circle cx="388.8" cy="433.4" r="1.4" fill="#7a649e"/>
<circle cx="394.6" cy="433.4" r="1.4" fill="#f1b7ad"/>
<circle cx="397.5" cy="433.4" r="1.4" fill="#f1b7ad"/>
<circle cx="400.5" cy="433.4" r="1.4" fill="#7a649e"/>
<circle cx="403.4" cy="433.4" r="1.4" fill="#eda85c"/>
<circle cx="406.3" cy="433.4" r="1.4" fill="#eda85c"/>
<circle cx="410.6" cy="433.4" r="1.4" fill="#6896bb"/>
<circle cx="414.4" cy="433.4" r="1.4" fill="#d46465"/>
<circle cx="417.3" cy="433.4" r="1.4" fill="#6896bb"/>
<circle cx="420.2" cy="433.4" r="1.4" fill="#eda85c"/>
<circle cx="440.5" cy="433.4" r="1.4" fill="#eda85c"/>
<circle cx="446.4" cy="433.4" r="1.4" fill="#d46465"/>
<circle cx="458.0" cy="433.4" r="1.4" fill="#67a067"/>
<circle cx="460.9" cy="433.4" r="1.4" fill="#d46465"/>
<circle cx="475.5" cy="433.4" r="1.4" fill="#6896bb"/>
<circle cx="478.1" cy="433.4" r="1.4" fill="#67a067"/>
<circle cx="437.6" cy="437.0" r="1.4" fill="#67a067"/>
<circle cx="371.4" cy="439.4" r="1.4" fill="#7a649e"/>
<circle cx="374.3" cy="439.4" r="1.4" fill="#7a649e"/>
<circle cx="380.1" cy="439.4" r="1.4" fill="#f1b7ad"/>
<circle cx="400.5" cy="439.4" r="1.4" fill="#67a067"/>
<circle cx="403.4" cy="439.4" r="1.4" fill="#eda85c"/>
<circle cx="406.3" cy="439.4" r="1.4" fill="#eda85c"/>
<circle cx="411.5" cy="439.4" r="1.4" fill="#d46465"/>
<circle cx="460.6" cy="439.4" r="1.4" fill="#eda85c"/>
<circle cx="385.9" cy="445.4" r="1.4" fill="#eda85c"/>
<circle cx="388.8" cy="445.4" r="1.4" fill="#f1b7ad"/>
<circle cx="400.5" cy="445.4" r="1.4" fill="#6896bb"/>
<circle cx="403.4" cy="445.4" r="1.4" fill="#b7cfa7"/>
<circle cx="411.4" cy="445.4" r="1.4" fill="#6896bb"/>
<circle cx="423.4" cy="445.4" r="1.4" fill="#d46465"/>
<circle cx="356.8" cy="451.3" r="1.4" fill="#eda85c"/>
<circle cx="388.8" cy="451.3" r="1.4" fill="#b9976e"/>
<circle cx="443.5" cy="457.2" r="1.4" fill="#b9976e"/>
<circle cx="411.0" cy="409.6" r="1.4" fill="#eda85c"/>
<circle cx="413.9" cy="409.6" r="1.4" fill="#eda85c"/>
<circle cx="416.7" cy="409.6" r="1.4" fill="#67a067"/>
<circle cx="419.6" cy="409.6" r="1.4" fill="#b7cfa7"/>
<circle cx="422.5" cy="409.6" r="1.4" fill="#67a067"/>
<circle cx="425.3" cy="409.6" r="1.4" fill="#eda85c"/>
<circle cx="428.2" cy="409.6" r="1.4" fill="#eda85c"/>
<circle cx="431.1" cy="409.6" r="1.4" fill="#67a067"/>
<circle cx="433.9" cy="409.6" r="1.4" fill="#7a649e"/>
<circle cx="436.8" cy="409.6" r="1.4" fill="#d7b588"/>
<circle cx="439.7" cy="409.6" r="1.4" fill="#b7cfa7"/>
<circle cx="445.4" cy="409.6" r="1.4" fill="#f1b7ad"/>
<circle cx="448.2" cy="409.6" r="1.4" fill="#d7b588"/>
<circle cx="451.1" cy="409.6" r="1.4" fill="#7a649e"/>
<circle cx="411.0" cy="415.6" r="1.4" fill="#f1b7ad"/>
<circle cx="413.9" cy="415.6" r="1.4" fill="#eda85c"/>
<circle cx="416.7" cy="415.6" r="1.4" fill="#67a067"/>
<circle cx="419.6" cy="415.6" r="1.4" fill="#eda85c"/>
<circle cx="422.5" cy="415.6" r="1.4" fill="#b7cfa7"/>
<circle cx="425.3" cy="415.6" r="1.4" fill="#d46465"/>
<circle cx="428.2" cy="415.6" r="1.4" fill="#b9976e"/>
<circle cx="431.1" cy="415.6" r="1.4" fill="#eda85c"/>
<circle cx="433.9" cy="415.6" r="1.4" fill="#6896bb"/>
<circle cx="436.8" cy="415.6" r="1.4" fill="#f1b7ad"/>
<circle cx="439.7" cy="415.6" r="1.4" fill="#6896bb"/>
<circle cx="442.5" cy="415.6" r="1.4" fill="#6896bb"/>
<circle cx="445.4" cy="415.6" r="1.4" fill="#d7b588"/>
<circle cx="448.2" cy="415.6" r="1.4" fill="#b9976e"/>
<circle cx="451.1" cy="415.6" r="1.4" fill="#eda85c"/>
<circle cx="454.0" cy="415.6" r="1.4" fill="#67a067"/>
<circle cx="456.8" cy="415.6" r="1.4" fill="#d46465"/>
<circle cx="459.7" cy="415.6" r="1.4" fill="#7a649e"/>
<circle cx="462.6" cy="415.6" r="1.4" fill="#eda85c"/>
<circle cx="465.4" cy="415.6" r="1.4" fill="#f1b7ad"/>
<circle cx="468.3" cy="415.6" r="1.4" fill="#d46465"/>
<circle cx="471.2" cy="415.6" r="1.4" fill="#6896bb"/>
<circle cx="474.0" cy="415.6" r="1.4" fill="#ece1a4"/>
<circle cx="476.9" cy="415.6" r="1.4" fill="#67a067"/>
<circle cx="479.8" cy="415.6" r="1.4" fill="#7a649e"/>
<circle cx="466.0" cy="409.6" r="1.4" fill="#b9976e"/>
<circle cx="468.9" cy="409.6" r="1.4" fill="#6896bb"/>
<circle cx="474.6" cy="409.6" r="1.4" fill="#7a649e"/>
<circle cx="477.5" cy="409.6" r="1.4" fill="#7a649e"/>
<line x1="358.1" y1="393.9" x2="486.3" y2="399.1" stroke="#a898b0" stroke-width="0.9" opacity="0.85"/>
<line x1="348.6" y1="418.9" x2="441.1" y2="420.8" stroke="#b8b8b8" stroke-width="0.9" opacity="0.85"/>
<line x1="355.5" y1="402.3" x2="501.0" y2="407.8" stroke="#a8b4c8" stroke-width="0.9" opacity="0.85"/>
<line x1="380.1" y1="407.7" x2="452.8" y2="411.8" stroke="#e0b0a0" stroke-width="0.9" opacity="0.85"/>
<line x1="366.4" y1="416.3" x2="441.3" y2="417.4" stroke="#a898b0" stroke-width="0.9" opacity="0.85"/>
<line x1="347.4" y1="417.5" x2="506.3" y2="420.9" stroke="#a898b0" stroke-width="0.9" opacity="0.85"/>
<line x1="384.5" y1="409.8" x2="514.7" y2="417.6" stroke="#a8b4c8" stroke-width="0.9" opacity="0.85"/>
<line x1="385.0" y1="425.5" x2="489.0" y2="426.9" stroke="#c0a8b8" stroke-width="0.9" opacity="0.85"/>
<line x1="350.4" y1="385.7" x2="451.6" y2="392.0" stroke="#a8b4c8" stroke-width="0.9" opacity="0.85"/>
<line x1="387.8" y1="395.6" x2="512.7" y2="402.5" stroke="#a898b0" stroke-width="0.9" opacity="0.85"/>
<line x1="364.3" y1="403.5" x2="489.7" y2="410.9" stroke="#d4bc94" stroke-width="0.9" opacity="0.85"/>
<line x1="392.1" y1="410.6" x2="524.2" y2="412.5" stroke="#c0a8b8" stroke-width="0.9" opacity="0.85"/>
<line x1="398.1" y1="403.6" x2="516.9" y2="409.3" stroke="#b8b8b8" stroke-width="0.9" opacity="0.85"/>
<line x1="379.8" y1="390.5" x2="524.0" y2="392.3" stroke="#c8d0a8" stroke-width="0.9" opacity="0.85"/>
<line x1="392.0" y1="378.9" x2="524.1" y2="385.9" stroke="#a8b4c8" stroke-width="0.9" opacity="0.85"/>
<line x1="394.3" y1="398.6" x2="441.7" y2="400.1" stroke="#d4bc94" stroke-width="0.9" opacity="0.85"/>
<line x1="347.4" y1="376.8" x2="492.2" y2="383.7" stroke="#c0a8b8" stroke-width="0.9" opacity="0.85"/>
<line x1="375.3" y1="390.6" x2="518.4" y2="393.3" stroke="#d4bc94" stroke-width="0.9" opacity="0.85"/>
<line x1="362.0" y1="407.7" x2="446.5" y2="408.3" stroke="#b8b8b8" stroke-width="0.9" opacity="0.85"/>
<line x1="398.4" y1="389.6" x2="464.8" y2="392.7" stroke="#c0a8b8" stroke-width="0.9" opacity="0.85"/>
<line x1="362.3" y1="420.6" x2="521.5" y2="425.0" stroke="#c8d0a8" stroke-width="0.9" opacity="0.85"/>
<line x1="392.8" y1="419.5" x2="472.8" y2="423.2" stroke="#d4bc94" stroke-width="0.9" opacity="0.85"/>
<line x1="379.1" y1="401.2" x2="520.0" y2="405.5" stroke="#b8b8b8" stroke-width="0.9" opacity="0.85"/>
<line x1="396.5" y1="390.0" x2="477.2" y2="391.8" stroke="#c0a8b8" stroke-width="0.9" opacity="0.85"/>
<line x1="345.6" y1="406.6" x2="475.3" y2="407.4" stroke="#a898b0" stroke-width="0.9" opacity="0.85"/>
<line x1="377.4" y1="408.8" x2="451.3" y2="410.6" stroke="#c0a8b8" stroke-width="0.9" opacity="0.85"/>
<line x1="382.4" y1="411.2" x2="470.0" y2="415.5" stroke="#d4bc94" stroke-width="0.9" opacity="0.85"/>
<line x1="377.4" y1="377.1" x2="521.2" y2="381.0" stroke="#c8d0a8" stroke-width="0.9" opacity="0.85"/>
<line x1="361.4" y1="385.8" x2="491.1" y2="387.9" stroke="#c0a8b8" stroke-width="0.9" opacity="0.85"/>
<line x1="391.4" y1="417.0" x2="462.5" y2="417.8" stroke="#d4bc94" stroke-width="0.9" opacity="0.85"/>
<line x1="398.4" y1="382.8" x2="498.1" y2="386.3" stroke="#b0b0b0" stroke-width="0.9" opacity="0.85"/>
<line x1="358.1" y1="397.5" x2="455.9" y2="402.1" stroke="#d4bc94" stroke-width="0.9" opacity="0.85"/>
<line x1="378.0" y1="410.4" x2="520.7" y2="413.1" stroke="#e0a870" stroke-width="0.9" opacity="0.85"/>
<line x1="349.4" y1="385.9" x2="503.1" y2="391.9" stroke="#b0b0b0" stroke-width="0.9" opacity="0.85"/>
<line x1="357.4" y1="403.7" x2="450.3" y2="405.2" stroke="#a898b0" stroke-width="0.9" opacity="0.85"/>
<line x1="355.1" y1="416.0" x2="463.7" y2="420.7" stroke="#a898b0" stroke-width="0.9" opacity="0.85"/>
<line x1="364.0" y1="390.3" x2="451.0" y2="394.9" stroke="#b0b0b0" stroke-width="0.9" opacity="0.85"/>
<line x1="370.6" y1="390.1" x2="493.9" y2="394.9" stroke="#d4bc94" stroke-width="0.9" opacity="0.85"/>
<line x1="395.6" y1="376.5" x2="453.3" y2="380.0" stroke="#a898b0" stroke-width="0.9" opacity="0.85"/>
<line x1="399.3" y1="423.2" x2="476.9" y2="427.9" stroke="#b8b8b8" stroke-width="0.9" opacity="0.85"/>
<line x1="346.8" y1="412.4" x2="478.8" y2="419.0" stroke="#b0b0b0" stroke-width="0.9" opacity="0.85"/>
<line x1="374.9" y1="417.1" x2="515.6" y2="425.1" stroke="#b0b0b0" stroke-width="0.9" opacity="0.85"/>
<line x1="351.6" y1="376.9" x2="460.8" y2="382.7" stroke="#e0b0a0" stroke-width="0.9" opacity="0.85"/>
<line x1="395.8" y1="420.6" x2="516.2" y2="425.4" stroke="#d4bc94" stroke-width="0.9" opacity="0.85"/>
<line x1="371.5" y1="402.4" x2="450.3" y2="403.9" stroke="#d4bc94" stroke-width="0.9" opacity="0.85"/>
<line x1="357.4" y1="324.2" x2="383.2" y2="326.5" stroke="#d0b888" stroke-width="0.9" opacity="0.85"/>
<line x1="405.9" y1="333.3" x2="469.2" y2="337.4" stroke="#d8a868" stroke-width="0.9" opacity="0.85"/>
<line x1="385.5" y1="346.2" x2="402.9" y2="347.7" stroke="#b0b0b0" stroke-width="0.9" opacity="0.85"/>
<line x1="457.7" y1="344.7" x2="477.9" y2="344.7" stroke="#3c853c" stroke-width="0.9" opacity="0.85"/>
<line x1="440.5" y1="350.8" x2="477.9" y2="353.0" stroke="#d0b888" stroke-width="0.9" opacity="0.85"/>
<line x1="370.7" y1="357.0" x2="400.0" y2="358.5" stroke="#d0b888" stroke-width="0.9" opacity="0.85"/>
<line x1="373.2" y1="356.8" x2="463.2" y2="363.0" stroke="#d0b888" stroke-width="0.9" opacity="0.85"/>
<line x1="381.4" y1="375.2" x2="528.7" y2="380.6" stroke="#a8a8a8" stroke-width="0.9" opacity="0.85"/>
<line x1="450.0" y1="377.0" x2="529.4" y2="380.4" stroke="#b0b0b0" stroke-width="0.9" opacity="0.85"/>
<line x1="450.0" y1="395.1" x2="526.9" y2="401.1" stroke="#a8a8a8" stroke-width="0.9" opacity="0.85"/>
<line x1="348.0" y1="403.4" x2="377.5" y2="404.8" stroke="#a8a8a8" stroke-width="0.9" opacity="0.85"/>
<line x1="334.3" y1="424.3" x2="528.7" y2="429.7" stroke="#a0a0a0" stroke-width="0.9" opacity="0.85"/>
<line x1="480.0" y1="398.6" x2="527.4" y2="401.3" stroke="#b0b0b0" stroke-width="0.9" opacity="0.85"/>
<line x1="480.0" y1="411.0" x2="532.7" y2="415.2" stroke="#d0b888" stroke-width="0.9" opacity="0.85"/>
<line x1="480.0" y1="426.3" x2="527.4" y2="428.8" stroke="#a8b4c8" stroke-width="0.9" opacity="0.85"/></g>
</svg></body></html>
